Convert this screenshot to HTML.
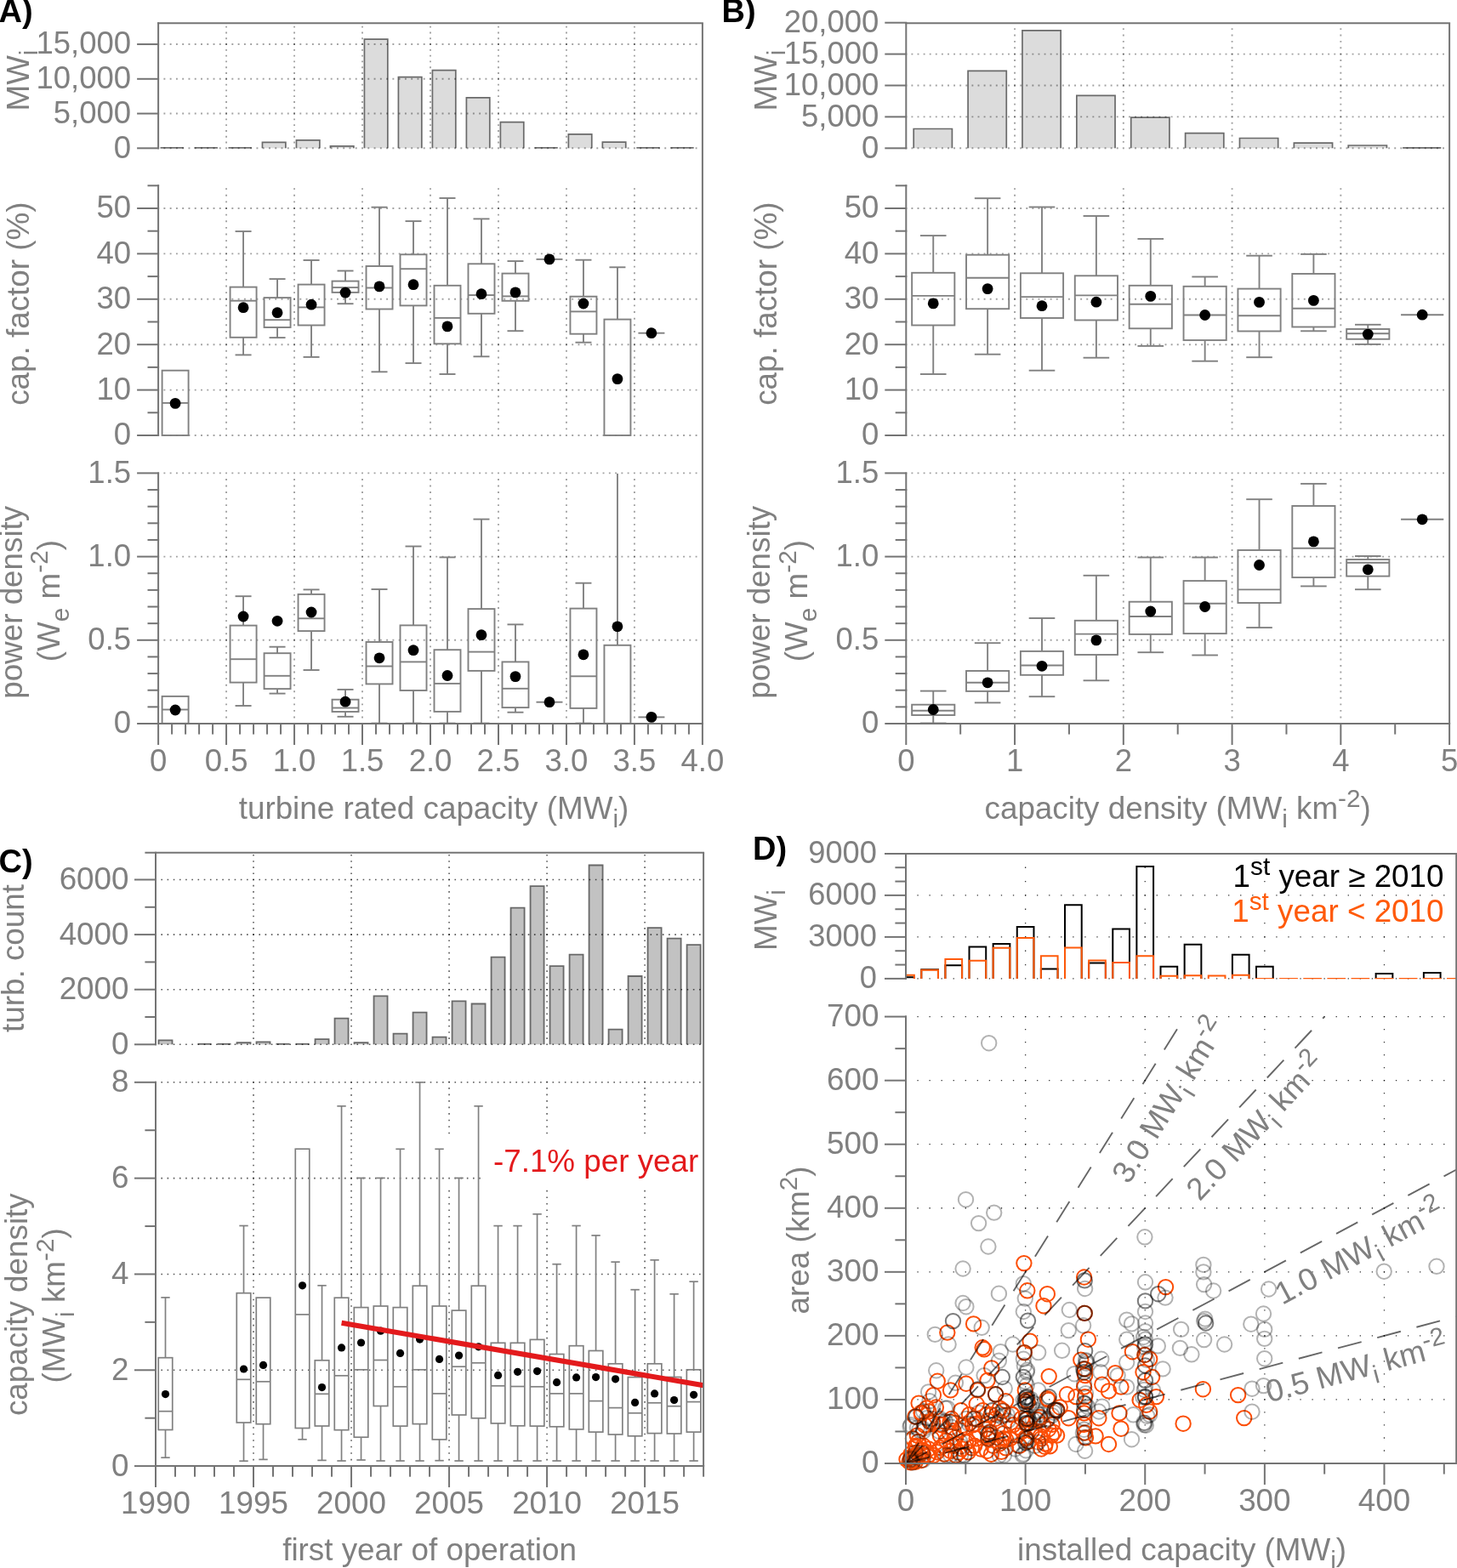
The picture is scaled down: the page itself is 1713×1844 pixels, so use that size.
<!DOCTYPE html>
<html lang="en">
<head>
<meta charset="utf-8">
<title>Wind power: capacity factor, power density and capacity density</title>
<style>
html, body { margin: 0; padding: 0; background: #fff; }
body { width: 1713px; height: 1844px; overflow: hidden; }
svg { display: block; font-family: "Liberation Sans", "DejaVu Sans", sans-serif; }
.ax { stroke: #747474; stroke-width: 2; fill: none; }
.gd { stroke: #000; stroke-opacity: 0.37; stroke-width: 1.9; fill: none; }
.gD { stroke: #000; stroke-opacity: 0.8; stroke-width: 1.3; fill: none; }
.gk { stroke: #000; stroke-opacity: 0.66; stroke-width: 1.6; fill: none; }
.bx { stroke: #808080; stroke-width: 1.9; fill: none; }
.bxc { stroke: #808080; stroke-width: 1.7; fill: none; }
.t { fill: #808080; }
.lab { fill: #000; font-weight: bold; }
.m { fill: #000; }
.ba { fill: #dcdcdc; stroke: #6a6a6a; stroke-width: 1.7; }
.bc { fill: #c2c2c2; stroke: #686868; stroke-width: 1.8; }
.hk { fill: none; stroke: #000; stroke-width: 2; }
.ho { fill: none; stroke: #ff5a0a; stroke-width: 2; }
.cg { fill: none; stroke: #000; stroke-opacity: 0.3; stroke-width: 2; }
.co { fill: none; stroke: #fc4e06; stroke-width: 2; }
.dl { fill: none; stroke: #000; stroke-opacity: 0.6; stroke-width: 1.9; stroke-dasharray: 28.6 19.2; }
.rl { fill: none; stroke: #e31a1c; stroke-width: 6; }
</style>
</head>
<body>
<svg width="1713" height="1844" viewBox="0 0 1713 1844">
<rect x="0" y="0" width="1713" height="1844" fill="#ffffff"/>
<line class="ba" style="fill:none" x1="188.50" y1="173.80" x2="215.90" y2="173.80"/>
<line class="ba" style="fill:none" x1="228.49" y1="173.80" x2="255.89" y2="173.80"/>
<line class="ba" style="fill:none" x1="268.47" y1="173.80" x2="295.87" y2="173.80"/>
<path class="ba" d="M308.46,174.30 V167.40 H335.86 V174.30"/>
<path class="ba" d="M348.45,174.30 V164.90 H375.85 V174.30"/>
<path class="ba" d="M388.44,174.30 V171.90 H415.84 V174.30"/>
<path class="ba" d="M428.42,174.30 V46.10 H455.82 V174.30"/>
<path class="ba" d="M468.41,174.30 V90.70 H495.81 V174.30"/>
<path class="ba" d="M508.40,174.30 V82.60 H535.80 V174.30"/>
<path class="ba" d="M548.39,174.30 V114.80 H575.79 V174.30"/>
<path class="ba" d="M588.38,174.30 V143.60 H615.77 V174.30"/>
<line class="ba" style="fill:none" x1="628.36" y1="173.80" x2="655.76" y2="173.80"/>
<path class="ba" d="M668.35,174.30 V157.80 H695.75 V174.30"/>
<path class="ba" d="M708.34,174.30 V167.20 H735.74 V174.30"/>
<line class="ba" style="fill:none" x1="748.32" y1="173.80" x2="775.72" y2="173.80"/>
<line class="ba" style="fill:none" x1="788.31" y1="173.80" x2="815.71" y2="173.80"/>
<line class="gd" x1="192.42" y1="174.30" x2="824.90" y2="174.30" stroke-dasharray="1.9 5.370"/>
<line class="gd" x1="192.42" y1="133.55" x2="824.90" y2="133.55" stroke-dasharray="1.9 5.370"/>
<line class="gd" x1="192.42" y1="92.80" x2="824.90" y2="92.80" stroke-dasharray="1.9 5.370"/>
<line class="gd" x1="192.42" y1="52.05" x2="824.90" y2="52.05" stroke-dasharray="1.9 5.370"/>
<line class="gd" x1="266.07" y1="168.46" x2="266.07" y2="29.30" stroke-dasharray="1.9 4.892"/>
<line class="gd" x1="346.05" y1="168.46" x2="346.05" y2="29.30" stroke-dasharray="1.9 4.892"/>
<line class="gd" x1="426.02" y1="168.46" x2="426.02" y2="29.30" stroke-dasharray="1.9 4.892"/>
<line class="gd" x1="506.00" y1="168.46" x2="506.00" y2="29.30" stroke-dasharray="1.9 4.892"/>
<line class="gd" x1="585.98" y1="168.46" x2="585.98" y2="29.30" stroke-dasharray="1.9 4.892"/>
<line class="gd" x1="665.95" y1="168.46" x2="665.95" y2="29.30" stroke-dasharray="1.9 4.892"/>
<line class="gd" x1="745.92" y1="168.46" x2="745.92" y2="29.30" stroke-dasharray="1.9 4.892"/>
<line class="gd" x1="192.42" y1="512.00" x2="824.90" y2="512.00" stroke-dasharray="1.9 5.370"/>
<line class="gd" x1="192.42" y1="458.60" x2="824.90" y2="458.60" stroke-dasharray="1.9 5.370"/>
<line class="gd" x1="192.42" y1="405.20" x2="824.90" y2="405.20" stroke-dasharray="1.9 5.370"/>
<line class="gd" x1="192.42" y1="351.80" x2="824.90" y2="351.80" stroke-dasharray="1.9 5.370"/>
<line class="gd" x1="192.42" y1="298.40" x2="824.90" y2="298.40" stroke-dasharray="1.9 5.370"/>
<line class="gd" x1="192.42" y1="245.00" x2="824.90" y2="245.00" stroke-dasharray="1.9 5.370"/>
<line class="gd" x1="266.07" y1="505.32" x2="266.07" y2="220.97" stroke-dasharray="1.9 5.729"/>
<line class="gd" x1="346.05" y1="505.32" x2="346.05" y2="220.97" stroke-dasharray="1.9 5.729"/>
<line class="gd" x1="426.02" y1="505.32" x2="426.02" y2="220.97" stroke-dasharray="1.9 5.729"/>
<line class="gd" x1="506.00" y1="505.32" x2="506.00" y2="220.97" stroke-dasharray="1.9 5.729"/>
<line class="gd" x1="585.98" y1="505.32" x2="585.98" y2="220.97" stroke-dasharray="1.9 5.729"/>
<line class="gd" x1="665.95" y1="505.32" x2="665.95" y2="220.97" stroke-dasharray="1.9 5.729"/>
<line class="gd" x1="745.92" y1="505.32" x2="745.92" y2="220.97" stroke-dasharray="1.9 5.729"/>
<line class="gd" x1="192.42" y1="752.80" x2="824.90" y2="752.80" stroke-dasharray="1.9 5.370"/>
<line class="gd" x1="192.42" y1="654.60" x2="824.90" y2="654.60" stroke-dasharray="1.9 5.370"/>
<line class="gd" x1="192.42" y1="556.40" x2="824.90" y2="556.40" stroke-dasharray="1.9 5.370"/>
<line class="gd" x1="266.07" y1="844.40" x2="266.07" y2="557.40" stroke-dasharray="1.9 5.654"/>
<line class="gd" x1="346.05" y1="844.40" x2="346.05" y2="557.40" stroke-dasharray="1.9 5.654"/>
<line class="gd" x1="426.02" y1="844.40" x2="426.02" y2="557.40" stroke-dasharray="1.9 5.654"/>
<line class="gd" x1="506.00" y1="844.40" x2="506.00" y2="557.40" stroke-dasharray="1.9 5.654"/>
<line class="gd" x1="585.98" y1="844.40" x2="585.98" y2="557.40" stroke-dasharray="1.9 5.654"/>
<line class="gd" x1="665.95" y1="844.40" x2="665.95" y2="557.40" stroke-dasharray="1.9 5.654"/>
<line class="gd" x1="745.92" y1="844.40" x2="745.92" y2="557.40" stroke-dasharray="1.9 5.654"/>
<rect class="bx" x="190.59" y="435.70" width="31.00" height="76.30"/>
<line class="bx" x1="190.59" y1="473.90" x2="221.59" y2="473.90"/>
<rect class="bx" x="270.57" y="337.60" width="31.00" height="59.20"/>
<line class="bx" x1="270.57" y1="353.70" x2="301.57" y2="353.70"/>
<line class="bx" x1="286.07" y1="272.10" x2="286.07" y2="337.60"/>
<line class="bx" x1="276.57" y1="272.10" x2="295.57" y2="272.10"/>
<line class="bx" x1="286.07" y1="396.80" x2="286.07" y2="417.40"/>
<line class="bx" x1="276.57" y1="417.40" x2="295.57" y2="417.40"/>
<rect class="bx" x="310.56" y="350.10" width="31.00" height="34.90"/>
<line class="bx" x1="310.56" y1="376.20" x2="341.56" y2="376.20"/>
<line class="bx" x1="326.06" y1="328.10" x2="326.06" y2="350.10"/>
<line class="bx" x1="316.56" y1="328.10" x2="335.56" y2="328.10"/>
<line class="bx" x1="326.06" y1="385.00" x2="326.06" y2="397.10"/>
<line class="bx" x1="316.56" y1="397.10" x2="335.56" y2="397.10"/>
<rect class="bx" x="350.54" y="334.60" width="31.00" height="47.90"/>
<line class="bx" x1="350.54" y1="361.40" x2="381.54" y2="361.40"/>
<line class="bx" x1="366.04" y1="306.00" x2="366.04" y2="334.60"/>
<line class="bx" x1="356.54" y1="306.00" x2="375.54" y2="306.00"/>
<line class="bx" x1="366.04" y1="382.50" x2="366.04" y2="419.90"/>
<line class="bx" x1="356.54" y1="419.90" x2="375.54" y2="419.90"/>
<rect class="bx" x="390.53" y="330.60" width="31.00" height="13.30"/>
<line class="bx" x1="390.53" y1="338.10" x2="421.53" y2="338.10"/>
<line class="bx" x1="406.03" y1="318.50" x2="406.03" y2="330.60"/>
<line class="bx" x1="396.53" y1="318.50" x2="415.53" y2="318.50"/>
<line class="bx" x1="406.03" y1="343.90" x2="406.03" y2="357.20"/>
<line class="bx" x1="396.53" y1="357.20" x2="415.53" y2="357.20"/>
<rect class="bx" x="430.52" y="313.00" width="31.00" height="50.50"/>
<line class="bx" x1="430.52" y1="338.50" x2="461.52" y2="338.50"/>
<line class="bx" x1="446.02" y1="243.70" x2="446.02" y2="313.00"/>
<line class="bx" x1="436.52" y1="243.70" x2="455.52" y2="243.70"/>
<line class="bx" x1="446.02" y1="363.50" x2="446.02" y2="437.30"/>
<line class="bx" x1="436.52" y1="437.30" x2="455.52" y2="437.30"/>
<rect class="bx" x="470.51" y="299.30" width="31.00" height="60.10"/>
<line class="bx" x1="470.51" y1="316.20" x2="501.51" y2="316.20"/>
<line class="bx" x1="486.01" y1="260.10" x2="486.01" y2="299.30"/>
<line class="bx" x1="476.51" y1="260.10" x2="495.51" y2="260.10"/>
<line class="bx" x1="486.01" y1="359.40" x2="486.01" y2="427.10"/>
<line class="bx" x1="476.51" y1="427.10" x2="495.51" y2="427.10"/>
<rect class="bx" x="510.49" y="335.80" width="31.00" height="68.50"/>
<line class="bx" x1="510.49" y1="373.90" x2="541.49" y2="373.90"/>
<line class="bx" x1="525.99" y1="233.00" x2="525.99" y2="335.80"/>
<line class="bx" x1="516.49" y1="233.00" x2="535.49" y2="233.00"/>
<line class="bx" x1="525.99" y1="404.30" x2="525.99" y2="440.00"/>
<line class="bx" x1="516.49" y1="440.00" x2="535.49" y2="440.00"/>
<rect class="bx" x="550.48" y="310.30" width="31.00" height="58.50"/>
<line class="bx" x1="550.48" y1="347.10" x2="581.48" y2="347.10"/>
<line class="bx" x1="565.98" y1="257.40" x2="565.98" y2="310.30"/>
<line class="bx" x1="556.48" y1="257.40" x2="575.48" y2="257.40"/>
<line class="bx" x1="565.98" y1="368.80" x2="565.98" y2="419.30"/>
<line class="bx" x1="556.48" y1="419.30" x2="575.48" y2="419.30"/>
<rect class="bx" x="590.47" y="321.60" width="31.00" height="32.20"/>
<line class="bx" x1="590.47" y1="348.40" x2="621.47" y2="348.40"/>
<line class="bx" x1="605.97" y1="307.10" x2="605.97" y2="321.60"/>
<line class="bx" x1="596.47" y1="307.10" x2="615.47" y2="307.10"/>
<line class="bx" x1="605.97" y1="353.80" x2="605.97" y2="389.20"/>
<line class="bx" x1="596.47" y1="389.20" x2="615.47" y2="389.20"/>
<line class="bx" x1="630.46" y1="304.90" x2="661.46" y2="304.90"/>
<rect class="bx" x="670.44" y="348.70" width="31.00" height="44.00"/>
<line class="bx" x1="670.44" y1="366.40" x2="701.44" y2="366.40"/>
<line class="bx" x1="685.94" y1="305.70" x2="685.94" y2="348.70"/>
<line class="bx" x1="676.44" y1="305.70" x2="695.44" y2="305.70"/>
<line class="bx" x1="685.94" y1="392.70" x2="685.94" y2="402.70"/>
<line class="bx" x1="676.44" y1="402.70" x2="695.44" y2="402.70"/>
<rect class="bx" x="710.43" y="375.60" width="31.00" height="136.40"/>
<line class="bx" x1="725.93" y1="314.30" x2="725.93" y2="375.60"/>
<line class="bx" x1="716.43" y1="314.30" x2="735.43" y2="314.30"/>
<line class="bx" x1="750.42" y1="391.70" x2="781.42" y2="391.70"/>
<rect class="bx" x="190.59" y="818.90" width="31.00" height="31.90"/>
<line class="bx" x1="190.59" y1="834.50" x2="221.59" y2="834.50"/>
<rect class="bx" x="270.57" y="735.60" width="31.00" height="67.00"/>
<line class="bx" x1="270.57" y1="775.20" x2="301.57" y2="775.20"/>
<line class="bx" x1="286.07" y1="701.20" x2="286.07" y2="735.60"/>
<line class="bx" x1="276.57" y1="701.20" x2="295.57" y2="701.20"/>
<line class="bx" x1="286.07" y1="802.60" x2="286.07" y2="830.00"/>
<line class="bx" x1="276.57" y1="830.00" x2="295.57" y2="830.00"/>
<rect class="bx" x="310.56" y="768.20" width="31.00" height="41.90"/>
<line class="bx" x1="310.56" y1="794.80" x2="341.56" y2="794.80"/>
<line class="bx" x1="326.06" y1="760.70" x2="326.06" y2="768.20"/>
<line class="bx" x1="316.56" y1="760.70" x2="335.56" y2="760.70"/>
<line class="bx" x1="326.06" y1="810.10" x2="326.06" y2="815.60"/>
<line class="bx" x1="316.56" y1="815.60" x2="335.56" y2="815.60"/>
<rect class="bx" x="350.54" y="698.90" width="31.00" height="43.20"/>
<line class="bx" x1="350.54" y1="727.30" x2="381.54" y2="727.30"/>
<line class="bx" x1="366.04" y1="693.40" x2="366.04" y2="698.90"/>
<line class="bx" x1="356.54" y1="693.40" x2="375.54" y2="693.40"/>
<line class="bx" x1="366.04" y1="742.10" x2="366.04" y2="788.00"/>
<line class="bx" x1="356.54" y1="788.00" x2="375.54" y2="788.00"/>
<rect class="bx" x="390.53" y="822.70" width="31.00" height="14.30"/>
<line class="bx" x1="390.53" y1="832.50" x2="421.53" y2="832.50"/>
<line class="bx" x1="406.03" y1="810.90" x2="406.03" y2="822.70"/>
<line class="bx" x1="396.53" y1="810.90" x2="415.53" y2="810.90"/>
<line class="bx" x1="406.03" y1="837.00" x2="406.03" y2="842.80"/>
<line class="bx" x1="396.53" y1="842.80" x2="415.53" y2="842.80"/>
<rect class="bx" x="430.52" y="755.00" width="31.00" height="49.40"/>
<line class="bx" x1="430.52" y1="783.50" x2="461.52" y2="783.50"/>
<line class="bx" x1="446.02" y1="693.00" x2="446.02" y2="755.00"/>
<line class="bx" x1="436.52" y1="693.00" x2="455.52" y2="693.00"/>
<line class="bx" x1="446.02" y1="804.40" x2="446.02" y2="850.60"/>
<line class="bx" x1="436.52" y1="850.60" x2="455.52" y2="850.60"/>
<rect class="bx" x="470.51" y="735.40" width="31.00" height="76.60"/>
<line class="bx" x1="470.51" y1="778.40" x2="501.51" y2="778.40"/>
<line class="bx" x1="486.01" y1="642.50" x2="486.01" y2="735.40"/>
<line class="bx" x1="476.51" y1="642.50" x2="495.51" y2="642.50"/>
<line class="bx" x1="486.01" y1="812.00" x2="486.01" y2="850.60"/>
<line class="bx" x1="476.51" y1="850.60" x2="495.51" y2="850.60"/>
<rect class="bx" x="510.49" y="764.20" width="31.00" height="72.70"/>
<line class="bx" x1="510.49" y1="803.90" x2="541.49" y2="803.90"/>
<line class="bx" x1="525.99" y1="655.40" x2="525.99" y2="764.20"/>
<line class="bx" x1="516.49" y1="655.40" x2="535.49" y2="655.40"/>
<line class="bx" x1="525.99" y1="836.90" x2="525.99" y2="850.60"/>
<line class="bx" x1="516.49" y1="850.60" x2="535.49" y2="850.60"/>
<rect class="bx" x="550.48" y="716.10" width="31.00" height="72.80"/>
<line class="bx" x1="550.48" y1="766.60" x2="581.48" y2="766.60"/>
<line class="bx" x1="565.98" y1="610.60" x2="565.98" y2="716.10"/>
<line class="bx" x1="556.48" y1="610.60" x2="575.48" y2="610.60"/>
<line class="bx" x1="565.98" y1="788.90" x2="565.98" y2="850.60"/>
<line class="bx" x1="556.48" y1="850.60" x2="575.48" y2="850.60"/>
<rect class="bx" x="590.47" y="778.40" width="31.00" height="53.70"/>
<line class="bx" x1="590.47" y1="809.80" x2="621.47" y2="809.80"/>
<line class="bx" x1="605.97" y1="734.40" x2="605.97" y2="778.40"/>
<line class="bx" x1="596.47" y1="734.40" x2="615.47" y2="734.40"/>
<line class="bx" x1="605.97" y1="832.10" x2="605.97" y2="837.70"/>
<line class="bx" x1="596.47" y1="837.70" x2="615.47" y2="837.70"/>
<line class="bx" x1="630.46" y1="825.70" x2="661.46" y2="825.70"/>
<rect class="bx" x="670.44" y="715.60" width="31.00" height="117.30"/>
<line class="bx" x1="670.44" y1="795.30" x2="701.44" y2="795.30"/>
<line class="bx" x1="685.94" y1="685.70" x2="685.94" y2="715.60"/>
<line class="bx" x1="676.44" y1="685.70" x2="695.44" y2="685.70"/>
<line class="bx" x1="685.94" y1="832.90" x2="685.94" y2="850.60"/>
<line class="bx" x1="676.44" y1="850.60" x2="695.44" y2="850.60"/>
<rect class="bx" x="710.43" y="758.80" width="31.00" height="92.00"/>
<line class="bx" x1="725.93" y1="556.90" x2="725.93" y2="758.80"/>
<line class="bx" x1="750.42" y1="843.40" x2="781.42" y2="843.40"/>
<circle class="m" cx="206.09" cy="474.40" r="6.4"/>
<circle class="m" cx="286.07" cy="361.70" r="6.4"/>
<circle class="m" cx="326.06" cy="367.70" r="6.4"/>
<circle class="m" cx="366.04" cy="358.20" r="6.4"/>
<circle class="m" cx="406.03" cy="344.10" r="6.4"/>
<circle class="m" cx="446.02" cy="336.90" r="6.4"/>
<circle class="m" cx="486.01" cy="334.70" r="6.4"/>
<circle class="m" cx="525.99" cy="383.90" r="6.4"/>
<circle class="m" cx="565.98" cy="345.70" r="6.4"/>
<circle class="m" cx="605.97" cy="343.90" r="6.4"/>
<circle class="m" cx="645.96" cy="304.90" r="6.4"/>
<circle class="m" cx="685.94" cy="357.00" r="6.4"/>
<circle class="m" cx="725.93" cy="445.60" r="6.4"/>
<circle class="m" cx="765.92" cy="391.70" r="6.4"/>
<circle class="m" cx="206.09" cy="835.00" r="6.4"/>
<circle class="m" cx="286.07" cy="725.00" r="6.4"/>
<circle class="m" cx="326.06" cy="730.30" r="6.4"/>
<circle class="m" cx="366.04" cy="720.00" r="6.4"/>
<circle class="m" cx="406.03" cy="825.20" r="6.4"/>
<circle class="m" cx="446.02" cy="773.80" r="6.4"/>
<circle class="m" cx="486.01" cy="764.70" r="6.4"/>
<circle class="m" cx="525.99" cy="794.50" r="6.4"/>
<circle class="m" cx="565.98" cy="746.70" r="6.4"/>
<circle class="m" cx="605.97" cy="795.60" r="6.4"/>
<circle class="m" cx="645.96" cy="825.70" r="6.4"/>
<circle class="m" cx="685.94" cy="769.80" r="6.4"/>
<circle class="m" cx="725.93" cy="736.80" r="6.4"/>
<circle class="m" cx="765.92" cy="843.40" r="6.4"/>
<line class="ax" x1="186.10" y1="26.30" x2="186.10" y2="175.30"/>
<line class="ax" x1="186.10" y1="217.30" x2="186.10" y2="513.00"/>
<line class="ax" x1="186.10" y1="555.40" x2="186.10" y2="851.00"/>
<line class="ax" x1="185.10" y1="27.30" x2="826.90" y2="27.30"/>
<line class="ax" x1="825.90" y1="27.30" x2="825.90" y2="851.00"/>
<line class="ax" x1="185.10" y1="851.00" x2="826.90" y2="851.00"/>
<line class="ax" x1="161.10" y1="174.30" x2="187.10" y2="174.30"/>
<text class="t" x="154.10" y="185.60" font-size="36.5" text-anchor="end">0</text>
<line class="ax" x1="161.10" y1="133.55" x2="187.10" y2="133.55"/>
<text class="t" x="154.10" y="144.85" font-size="36.5" text-anchor="end">5,000</text>
<line class="ax" x1="161.10" y1="92.80" x2="187.10" y2="92.80"/>
<text class="t" x="154.10" y="104.10" font-size="36.5" text-anchor="end">10,000</text>
<line class="ax" x1="161.10" y1="52.05" x2="187.10" y2="52.05"/>
<text class="t" x="154.10" y="63.35" font-size="36.5" text-anchor="end">15,000</text>
<line class="ax" x1="161.10" y1="512.00" x2="187.10" y2="512.00"/>
<text class="t" x="154.10" y="523.30" font-size="36.5" text-anchor="end">0</text>
<line class="ax" x1="173.50" y1="485.30" x2="187.10" y2="485.30"/>
<line class="ax" x1="161.10" y1="458.60" x2="187.10" y2="458.60"/>
<text class="t" x="154.10" y="469.90" font-size="36.5" text-anchor="end">10</text>
<line class="ax" x1="173.50" y1="431.90" x2="187.10" y2="431.90"/>
<line class="ax" x1="161.10" y1="405.20" x2="187.10" y2="405.20"/>
<text class="t" x="154.10" y="416.50" font-size="36.5" text-anchor="end">20</text>
<line class="ax" x1="173.50" y1="378.50" x2="187.10" y2="378.50"/>
<line class="ax" x1="161.10" y1="351.80" x2="187.10" y2="351.80"/>
<text class="t" x="154.10" y="363.10" font-size="36.5" text-anchor="end">30</text>
<line class="ax" x1="173.50" y1="325.10" x2="187.10" y2="325.10"/>
<line class="ax" x1="161.10" y1="298.40" x2="187.10" y2="298.40"/>
<text class="t" x="154.10" y="309.70" font-size="36.5" text-anchor="end">40</text>
<line class="ax" x1="173.50" y1="271.70" x2="187.10" y2="271.70"/>
<line class="ax" x1="161.10" y1="245.00" x2="187.10" y2="245.00"/>
<text class="t" x="154.10" y="256.30" font-size="36.5" text-anchor="end">50</text>
<line class="ax" x1="173.50" y1="218.30" x2="187.10" y2="218.30"/>
<line class="ax" x1="161.10" y1="851.00" x2="187.10" y2="851.00"/>
<text class="t" x="154.10" y="862.30" font-size="36.5" text-anchor="end">0</text>
<line class="ax" x1="173.50" y1="831.36" x2="187.10" y2="831.36"/>
<line class="ax" x1="173.50" y1="811.72" x2="187.10" y2="811.72"/>
<line class="ax" x1="173.50" y1="792.08" x2="187.10" y2="792.08"/>
<line class="ax" x1="173.50" y1="772.44" x2="187.10" y2="772.44"/>
<line class="ax" x1="161.10" y1="752.80" x2="187.10" y2="752.80"/>
<text class="t" x="154.10" y="764.10" font-size="36.5" text-anchor="end">0.5</text>
<line class="ax" x1="173.50" y1="733.16" x2="187.10" y2="733.16"/>
<line class="ax" x1="173.50" y1="713.52" x2="187.10" y2="713.52"/>
<line class="ax" x1="173.50" y1="693.88" x2="187.10" y2="693.88"/>
<line class="ax" x1="173.50" y1="674.24" x2="187.10" y2="674.24"/>
<line class="ax" x1="161.10" y1="654.60" x2="187.10" y2="654.60"/>
<text class="t" x="154.10" y="665.90" font-size="36.5" text-anchor="end">1.0</text>
<line class="ax" x1="173.50" y1="634.96" x2="187.10" y2="634.96"/>
<line class="ax" x1="173.50" y1="615.32" x2="187.10" y2="615.32"/>
<line class="ax" x1="173.50" y1="595.68" x2="187.10" y2="595.68"/>
<line class="ax" x1="173.50" y1="576.04" x2="187.10" y2="576.04"/>
<line class="ax" x1="161.10" y1="556.40" x2="187.10" y2="556.40"/>
<text class="t" x="154.10" y="567.70" font-size="36.5" text-anchor="end">1.5</text>
<line class="ax" x1="186.10" y1="850.00" x2="186.10" y2="876.00"/>
<line class="ax" x1="202.09" y1="850.00" x2="202.09" y2="863.60"/>
<line class="ax" x1="218.09" y1="850.00" x2="218.09" y2="863.60"/>
<line class="ax" x1="234.09" y1="850.00" x2="234.09" y2="863.60"/>
<line class="ax" x1="250.08" y1="850.00" x2="250.08" y2="863.60"/>
<line class="ax" x1="266.07" y1="850.00" x2="266.07" y2="876.00"/>
<line class="ax" x1="282.07" y1="850.00" x2="282.07" y2="863.60"/>
<line class="ax" x1="298.06" y1="850.00" x2="298.06" y2="863.60"/>
<line class="ax" x1="314.06" y1="850.00" x2="314.06" y2="863.60"/>
<line class="ax" x1="330.05" y1="850.00" x2="330.05" y2="863.60"/>
<line class="ax" x1="346.05" y1="850.00" x2="346.05" y2="876.00"/>
<line class="ax" x1="362.04" y1="850.00" x2="362.04" y2="863.60"/>
<line class="ax" x1="378.04" y1="850.00" x2="378.04" y2="863.60"/>
<line class="ax" x1="394.03" y1="850.00" x2="394.03" y2="863.60"/>
<line class="ax" x1="410.03" y1="850.00" x2="410.03" y2="863.60"/>
<line class="ax" x1="426.02" y1="850.00" x2="426.02" y2="876.00"/>
<line class="ax" x1="442.02" y1="850.00" x2="442.02" y2="863.60"/>
<line class="ax" x1="458.01" y1="850.00" x2="458.01" y2="863.60"/>
<line class="ax" x1="474.01" y1="850.00" x2="474.01" y2="863.60"/>
<line class="ax" x1="490.00" y1="850.00" x2="490.00" y2="863.60"/>
<line class="ax" x1="506.00" y1="850.00" x2="506.00" y2="876.00"/>
<line class="ax" x1="522.00" y1="850.00" x2="522.00" y2="863.60"/>
<line class="ax" x1="537.99" y1="850.00" x2="537.99" y2="863.60"/>
<line class="ax" x1="553.99" y1="850.00" x2="553.99" y2="863.60"/>
<line class="ax" x1="569.98" y1="850.00" x2="569.98" y2="863.60"/>
<line class="ax" x1="585.98" y1="850.00" x2="585.98" y2="876.00"/>
<line class="ax" x1="601.97" y1="850.00" x2="601.97" y2="863.60"/>
<line class="ax" x1="617.97" y1="850.00" x2="617.97" y2="863.60"/>
<line class="ax" x1="633.96" y1="850.00" x2="633.96" y2="863.60"/>
<line class="ax" x1="649.96" y1="850.00" x2="649.96" y2="863.60"/>
<line class="ax" x1="665.95" y1="850.00" x2="665.95" y2="876.00"/>
<line class="ax" x1="681.94" y1="850.00" x2="681.94" y2="863.60"/>
<line class="ax" x1="697.94" y1="850.00" x2="697.94" y2="863.60"/>
<line class="ax" x1="713.94" y1="850.00" x2="713.94" y2="863.60"/>
<line class="ax" x1="729.93" y1="850.00" x2="729.93" y2="863.60"/>
<line class="ax" x1="745.92" y1="850.00" x2="745.92" y2="876.00"/>
<line class="ax" x1="761.92" y1="850.00" x2="761.92" y2="863.60"/>
<line class="ax" x1="777.91" y1="850.00" x2="777.91" y2="863.60"/>
<line class="ax" x1="793.91" y1="850.00" x2="793.91" y2="863.60"/>
<line class="ax" x1="809.91" y1="850.00" x2="809.91" y2="863.60"/>
<line class="ax" x1="825.90" y1="850.00" x2="825.90" y2="876.00"/>
<text class="t" x="186.10" y="907.00" font-size="36.5" text-anchor="middle">0</text>
<text class="t" x="266.07" y="907.00" font-size="36.5" text-anchor="middle">0.5</text>
<text class="t" x="346.05" y="907.00" font-size="36.5" text-anchor="middle">1.0</text>
<text class="t" x="426.02" y="907.00" font-size="36.5" text-anchor="middle">1.5</text>
<text class="t" x="506.00" y="907.00" font-size="36.5" text-anchor="middle">2.0</text>
<text class="t" x="585.98" y="907.00" font-size="36.5" text-anchor="middle">2.5</text>
<text class="t" x="665.95" y="907.00" font-size="36.5" text-anchor="middle">3.0</text>
<text class="t" x="745.92" y="907.00" font-size="36.5" text-anchor="middle">3.5</text>
<text class="t" x="825.90" y="907.00" font-size="36.5" text-anchor="middle">4.0</text>
<text class="t" x="510.00" y="962.50" font-size="36.8" text-anchor="middle"><tspan font-size="36.8" dy="0.00">turbine rated capacity (MW</tspan><tspan font-size="29.8" dy="10.49">i</tspan><tspan font-size="36.8" dy="-10.49">)</tspan></text>
<text class="t" x="0" y="0" transform="translate(33.70,94.50) rotate(-90)" font-size="36.8" text-anchor="middle"><tspan font-size="36.8" dy="0.00">MW</tspan><tspan font-size="29.8" dy="10.49">i</tspan></text>
<text class="t" x="0" y="0" transform="translate(33.70,357.20) rotate(-90)" font-size="36.8" text-anchor="middle">cap. factor (%)</text>
<text class="t" x="0" y="0" transform="translate(26.00,708.30) rotate(-90)" font-size="36.8" text-anchor="middle">power density</text>
<text class="t" x="0" y="0" transform="translate(70.10,706.60) rotate(-90)" font-size="36.8" text-anchor="middle"><tspan font-size="36.8" dy="0.00">(W</tspan><tspan font-size="29.8" dy="10.49">e</tspan><tspan font-size="36.8" dy="-10.49">&#160;m</tspan><tspan font-size="29.8" dy="-13.73">-2</tspan><tspan font-size="36.8" dy="13.73">)</tspan></text>
<text class="lab" x="-1.50" y="26.30" font-size="38" text-anchor="start">A)</text>
<path class="ba" d="M1074.20,174.30 V151.50 H1119.40 V174.30"/>
<path class="ba" d="M1138.08,174.30 V83.40 H1183.28 V174.30"/>
<path class="ba" d="M1201.96,174.30 V35.90 H1247.16 V174.30"/>
<path class="ba" d="M1265.84,174.30 V112.40 H1311.04 V174.30"/>
<path class="ba" d="M1329.72,174.30 V138.10 H1374.92 V174.30"/>
<path class="ba" d="M1393.60,174.30 V156.60 H1438.80 V174.30"/>
<path class="ba" d="M1457.48,174.30 V162.50 H1502.68 V174.30"/>
<path class="ba" d="M1521.36,174.30 V168.20 H1566.56 V174.30"/>
<path class="ba" d="M1585.24,174.30 V171.00 H1630.44 V174.30"/>
<line class="ba" style="fill:none" x1="1649.12" y1="173.80" x2="1694.32" y2="173.80"/>
<line class="gd" x1="1071.45" y1="174.30" x2="1703.10" y2="174.30" stroke-dasharray="1.9 5.198"/>
<line class="gd" x1="1071.45" y1="137.40" x2="1703.10" y2="137.40" stroke-dasharray="1.9 5.198"/>
<line class="gd" x1="1071.45" y1="100.50" x2="1703.10" y2="100.50" stroke-dasharray="1.9 5.198"/>
<line class="gd" x1="1071.45" y1="63.60" x2="1703.10" y2="63.60" stroke-dasharray="1.9 5.198"/>
<line class="gd" x1="1193.06" y1="167.87" x2="1193.06" y2="29.30" stroke-dasharray="1.9 5.480"/>
<line class="gd" x1="1320.82" y1="167.87" x2="1320.82" y2="29.30" stroke-dasharray="1.9 5.480"/>
<line class="gd" x1="1448.58" y1="167.87" x2="1448.58" y2="29.30" stroke-dasharray="1.9 5.480"/>
<line class="gd" x1="1576.34" y1="167.87" x2="1576.34" y2="29.30" stroke-dasharray="1.9 5.480"/>
<line class="gd" x1="1071.45" y1="512.00" x2="1703.10" y2="512.00" stroke-dasharray="1.9 5.198"/>
<line class="gd" x1="1071.45" y1="458.60" x2="1703.10" y2="458.60" stroke-dasharray="1.9 5.198"/>
<line class="gd" x1="1071.45" y1="405.20" x2="1703.10" y2="405.20" stroke-dasharray="1.9 5.198"/>
<line class="gd" x1="1071.45" y1="351.80" x2="1703.10" y2="351.80" stroke-dasharray="1.9 5.198"/>
<line class="gd" x1="1071.45" y1="298.40" x2="1703.10" y2="298.40" stroke-dasharray="1.9 5.198"/>
<line class="gd" x1="1071.45" y1="245.00" x2="1703.10" y2="245.00" stroke-dasharray="1.9 5.198"/>
<line class="gd" x1="1193.06" y1="505.32" x2="1193.06" y2="220.97" stroke-dasharray="1.9 5.729"/>
<line class="gd" x1="1320.82" y1="505.32" x2="1320.82" y2="220.97" stroke-dasharray="1.9 5.729"/>
<line class="gd" x1="1448.58" y1="505.32" x2="1448.58" y2="220.97" stroke-dasharray="1.9 5.729"/>
<line class="gd" x1="1576.34" y1="505.32" x2="1576.34" y2="220.97" stroke-dasharray="1.9 5.729"/>
<line class="gd" x1="1071.45" y1="752.80" x2="1703.10" y2="752.80" stroke-dasharray="1.9 5.198"/>
<line class="gd" x1="1071.45" y1="654.60" x2="1703.10" y2="654.60" stroke-dasharray="1.9 5.198"/>
<line class="gd" x1="1071.45" y1="556.40" x2="1703.10" y2="556.40" stroke-dasharray="1.9 5.198"/>
<line class="gd" x1="1193.06" y1="844.40" x2="1193.06" y2="557.40" stroke-dasharray="1.9 5.654"/>
<line class="gd" x1="1320.82" y1="844.40" x2="1320.82" y2="557.40" stroke-dasharray="1.9 5.654"/>
<line class="gd" x1="1448.58" y1="844.40" x2="1448.58" y2="557.40" stroke-dasharray="1.9 5.654"/>
<line class="gd" x1="1576.34" y1="844.40" x2="1576.34" y2="557.40" stroke-dasharray="1.9 5.654"/>
<rect class="bx" x="1072.14" y="320.80" width="50.20" height="61.70"/>
<line class="bx" x1="1072.14" y1="347.90" x2="1122.34" y2="347.90"/>
<line class="bx" x1="1097.24" y1="277.10" x2="1097.24" y2="320.80"/>
<line class="bx" x1="1081.94" y1="277.10" x2="1112.54" y2="277.10"/>
<line class="bx" x1="1097.24" y1="382.50" x2="1097.24" y2="440.00"/>
<line class="bx" x1="1081.94" y1="440.00" x2="1112.54" y2="440.00"/>
<rect class="bx" x="1136.02" y="299.70" width="50.20" height="63.50"/>
<line class="bx" x1="1136.02" y1="326.80" x2="1186.22" y2="326.80"/>
<line class="bx" x1="1161.12" y1="233.20" x2="1161.12" y2="299.70"/>
<line class="bx" x1="1145.82" y1="233.20" x2="1176.42" y2="233.20"/>
<line class="bx" x1="1161.12" y1="363.20" x2="1161.12" y2="416.70"/>
<line class="bx" x1="1145.82" y1="416.70" x2="1176.42" y2="416.70"/>
<rect class="bx" x="1199.90" y="321.30" width="50.20" height="52.70"/>
<line class="bx" x1="1199.90" y1="349.10" x2="1250.10" y2="349.10"/>
<line class="bx" x1="1225.00" y1="243.50" x2="1225.00" y2="321.30"/>
<line class="bx" x1="1209.70" y1="243.50" x2="1240.30" y2="243.50"/>
<line class="bx" x1="1225.00" y1="374.00" x2="1225.00" y2="435.70"/>
<line class="bx" x1="1209.70" y1="435.70" x2="1240.30" y2="435.70"/>
<rect class="bx" x="1263.78" y="324.30" width="50.20" height="52.20"/>
<line class="bx" x1="1263.78" y1="347.40" x2="1313.98" y2="347.40"/>
<line class="bx" x1="1288.88" y1="254.00" x2="1288.88" y2="324.30"/>
<line class="bx" x1="1273.58" y1="254.00" x2="1304.18" y2="254.00"/>
<line class="bx" x1="1288.88" y1="376.50" x2="1288.88" y2="420.70"/>
<line class="bx" x1="1273.58" y1="420.70" x2="1304.18" y2="420.70"/>
<rect class="bx" x="1327.66" y="335.80" width="50.20" height="50.50"/>
<line class="bx" x1="1327.66" y1="357.70" x2="1377.86" y2="357.70"/>
<line class="bx" x1="1352.76" y1="280.90" x2="1352.76" y2="335.80"/>
<line class="bx" x1="1337.46" y1="280.90" x2="1368.06" y2="280.90"/>
<line class="bx" x1="1352.76" y1="386.30" x2="1352.76" y2="406.90"/>
<line class="bx" x1="1337.46" y1="406.90" x2="1368.06" y2="406.90"/>
<rect class="bx" x="1391.54" y="336.80" width="50.20" height="63.30"/>
<line class="bx" x1="1391.54" y1="370.50" x2="1441.74" y2="370.50"/>
<line class="bx" x1="1416.64" y1="325.50" x2="1416.64" y2="336.80"/>
<line class="bx" x1="1401.34" y1="325.50" x2="1431.94" y2="325.50"/>
<line class="bx" x1="1416.64" y1="400.10" x2="1416.64" y2="424.70"/>
<line class="bx" x1="1401.34" y1="424.70" x2="1431.94" y2="424.70"/>
<rect class="bx" x="1455.42" y="339.60" width="50.20" height="49.90"/>
<line class="bx" x1="1455.42" y1="371.20" x2="1505.62" y2="371.20"/>
<line class="bx" x1="1480.52" y1="300.70" x2="1480.52" y2="339.60"/>
<line class="bx" x1="1465.22" y1="300.70" x2="1495.82" y2="300.70"/>
<line class="bx" x1="1480.52" y1="389.50" x2="1480.52" y2="420.20"/>
<line class="bx" x1="1465.22" y1="420.20" x2="1495.82" y2="420.20"/>
<rect class="bx" x="1519.30" y="322.00" width="50.20" height="62.50"/>
<line class="bx" x1="1519.30" y1="362.70" x2="1569.50" y2="362.70"/>
<line class="bx" x1="1544.40" y1="298.90" x2="1544.40" y2="322.00"/>
<line class="bx" x1="1529.10" y1="298.90" x2="1559.70" y2="298.90"/>
<line class="bx" x1="1544.40" y1="384.50" x2="1544.40" y2="389.30"/>
<line class="bx" x1="1529.10" y1="389.30" x2="1559.70" y2="389.30"/>
<rect class="bx" x="1583.18" y="387.00" width="50.20" height="11.80"/>
<line class="bx" x1="1583.18" y1="392.30" x2="1633.38" y2="392.30"/>
<line class="bx" x1="1608.28" y1="381.80" x2="1608.28" y2="387.00"/>
<line class="bx" x1="1592.98" y1="381.80" x2="1623.58" y2="381.80"/>
<line class="bx" x1="1608.28" y1="398.80" x2="1608.28" y2="404.90"/>
<line class="bx" x1="1592.98" y1="404.90" x2="1623.58" y2="404.90"/>
<line class="bx" x1="1647.06" y1="370.20" x2="1697.26" y2="370.20"/>
<rect class="bx" x="1072.14" y="828.70" width="50.20" height="12.30"/>
<line class="bx" x1="1072.14" y1="835.70" x2="1122.34" y2="835.70"/>
<line class="bx" x1="1097.24" y1="812.60" x2="1097.24" y2="828.70"/>
<line class="bx" x1="1081.94" y1="812.60" x2="1112.54" y2="812.60"/>
<line class="bx" x1="1097.24" y1="841.00" x2="1097.24" y2="850.50"/>
<line class="bx" x1="1081.94" y1="850.50" x2="1112.54" y2="850.50"/>
<rect class="bx" x="1136.02" y="789.00" width="50.20" height="23.90"/>
<line class="bx" x1="1136.02" y1="802.80" x2="1186.22" y2="802.80"/>
<line class="bx" x1="1161.12" y1="756.20" x2="1161.12" y2="789.00"/>
<line class="bx" x1="1145.82" y1="756.20" x2="1176.42" y2="756.20"/>
<line class="bx" x1="1161.12" y1="812.90" x2="1161.12" y2="826.40"/>
<line class="bx" x1="1145.82" y1="826.40" x2="1176.42" y2="826.40"/>
<rect class="bx" x="1199.90" y="765.90" width="50.20" height="27.90"/>
<line class="bx" x1="1199.90" y1="782.50" x2="1250.10" y2="782.50"/>
<line class="bx" x1="1225.00" y1="727.00" x2="1225.00" y2="765.90"/>
<line class="bx" x1="1209.70" y1="727.00" x2="1240.30" y2="727.00"/>
<line class="bx" x1="1225.00" y1="793.80" x2="1225.00" y2="819.20"/>
<line class="bx" x1="1209.70" y1="819.20" x2="1240.30" y2="819.20"/>
<rect class="bx" x="1263.78" y="729.80" width="50.20" height="40.20"/>
<line class="bx" x1="1263.78" y1="745.60" x2="1313.98" y2="745.60"/>
<line class="bx" x1="1288.88" y1="676.80" x2="1288.88" y2="729.80"/>
<line class="bx" x1="1273.58" y1="676.80" x2="1304.18" y2="676.80"/>
<line class="bx" x1="1288.88" y1="770.00" x2="1288.88" y2="800.30"/>
<line class="bx" x1="1273.58" y1="800.30" x2="1304.18" y2="800.30"/>
<rect class="bx" x="1327.66" y="707.70" width="50.20" height="38.20"/>
<line class="bx" x1="1327.66" y1="725.00" x2="1377.86" y2="725.00"/>
<line class="bx" x1="1352.76" y1="655.50" x2="1352.76" y2="707.70"/>
<line class="bx" x1="1337.46" y1="655.50" x2="1368.06" y2="655.50"/>
<line class="bx" x1="1352.76" y1="745.90" x2="1352.76" y2="767.20"/>
<line class="bx" x1="1337.46" y1="767.20" x2="1368.06" y2="767.20"/>
<rect class="bx" x="1391.54" y="683.10" width="50.20" height="62.00"/>
<line class="bx" x1="1391.54" y1="709.70" x2="1441.74" y2="709.70"/>
<line class="bx" x1="1416.64" y1="655.50" x2="1416.64" y2="683.10"/>
<line class="bx" x1="1401.34" y1="655.50" x2="1431.94" y2="655.50"/>
<line class="bx" x1="1416.64" y1="745.10" x2="1416.64" y2="770.50"/>
<line class="bx" x1="1401.34" y1="770.50" x2="1431.94" y2="770.50"/>
<rect class="bx" x="1455.42" y="647.00" width="50.20" height="62.00"/>
<line class="bx" x1="1455.42" y1="693.40" x2="1505.62" y2="693.40"/>
<line class="bx" x1="1480.52" y1="587.20" x2="1480.52" y2="647.00"/>
<line class="bx" x1="1465.22" y1="587.20" x2="1495.82" y2="587.20"/>
<line class="bx" x1="1480.52" y1="709.00" x2="1480.52" y2="738.10"/>
<line class="bx" x1="1465.22" y1="738.10" x2="1495.82" y2="738.10"/>
<rect class="bx" x="1519.30" y="595.00" width="50.20" height="84.10"/>
<line class="bx" x1="1519.30" y1="644.70" x2="1569.50" y2="644.70"/>
<line class="bx" x1="1544.40" y1="568.90" x2="1544.40" y2="595.00"/>
<line class="bx" x1="1529.10" y1="568.90" x2="1559.70" y2="568.90"/>
<line class="bx" x1="1544.40" y1="679.10" x2="1544.40" y2="689.40"/>
<line class="bx" x1="1529.10" y1="689.40" x2="1559.70" y2="689.40"/>
<rect class="bx" x="1583.18" y="658.00" width="50.20" height="19.60"/>
<line class="bx" x1="1583.18" y1="661.80" x2="1633.38" y2="661.80"/>
<line class="bx" x1="1608.28" y1="654.00" x2="1608.28" y2="658.00"/>
<line class="bx" x1="1592.98" y1="654.00" x2="1623.58" y2="654.00"/>
<line class="bx" x1="1608.28" y1="677.60" x2="1608.28" y2="693.20"/>
<line class="bx" x1="1592.98" y1="693.20" x2="1623.58" y2="693.20"/>
<line class="bx" x1="1647.06" y1="610.80" x2="1697.26" y2="610.80"/>
<circle class="m" cx="1097.24" cy="356.90" r="6.4"/>
<circle class="m" cx="1161.12" cy="339.60" r="6.4"/>
<circle class="m" cx="1225.00" cy="359.70" r="6.4"/>
<circle class="m" cx="1288.88" cy="355.20" r="6.4"/>
<circle class="m" cx="1352.76" cy="348.40" r="6.4"/>
<circle class="m" cx="1416.64" cy="370.50" r="6.4"/>
<circle class="m" cx="1480.52" cy="355.40" r="6.4"/>
<circle class="m" cx="1544.40" cy="353.40" r="6.4"/>
<circle class="m" cx="1608.28" cy="393.10" r="6.4"/>
<circle class="m" cx="1672.16" cy="370.20" r="6.4"/>
<circle class="m" cx="1097.24" cy="834.50" r="6.4"/>
<circle class="m" cx="1161.12" cy="802.80" r="6.4"/>
<circle class="m" cx="1225.00" cy="783.30" r="6.4"/>
<circle class="m" cx="1288.88" cy="752.90" r="6.4"/>
<circle class="m" cx="1352.76" cy="719.00" r="6.4"/>
<circle class="m" cx="1416.64" cy="713.50" r="6.4"/>
<circle class="m" cx="1480.52" cy="664.50" r="6.4"/>
<circle class="m" cx="1544.40" cy="636.90" r="6.4"/>
<circle class="m" cx="1608.28" cy="669.80" r="6.4"/>
<circle class="m" cx="1672.16" cy="610.80" r="6.4"/>
<line class="ax" x1="1065.30" y1="26.30" x2="1065.30" y2="175.30"/>
<line class="ax" x1="1065.30" y1="217.30" x2="1065.30" y2="513.00"/>
<line class="ax" x1="1065.30" y1="555.40" x2="1065.30" y2="851.00"/>
<line class="ax" x1="1064.30" y1="27.30" x2="1705.10" y2="27.30"/>
<line class="ax" x1="1704.10" y1="27.30" x2="1704.10" y2="851.00"/>
<line class="ax" x1="1064.30" y1="851.00" x2="1705.10" y2="851.00"/>
<line class="ax" x1="1040.30" y1="174.30" x2="1066.30" y2="174.30"/>
<text class="t" x="1033.30" y="185.60" font-size="36.5" text-anchor="end">0</text>
<line class="ax" x1="1040.30" y1="137.40" x2="1066.30" y2="137.40"/>
<text class="t" x="1033.30" y="148.70" font-size="36.5" text-anchor="end">5,000</text>
<line class="ax" x1="1040.30" y1="100.50" x2="1066.30" y2="100.50"/>
<text class="t" x="1033.30" y="111.80" font-size="36.5" text-anchor="end">10,000</text>
<line class="ax" x1="1040.30" y1="63.60" x2="1066.30" y2="63.60"/>
<text class="t" x="1033.30" y="74.90" font-size="36.5" text-anchor="end">15,000</text>
<line class="ax" x1="1040.30" y1="26.70" x2="1066.30" y2="26.70"/>
<text class="t" x="1033.30" y="38.00" font-size="36.5" text-anchor="end">20,000</text>
<line class="ax" x1="1040.30" y1="512.00" x2="1066.30" y2="512.00"/>
<text class="t" x="1033.30" y="523.30" font-size="36.5" text-anchor="end">0</text>
<line class="ax" x1="1052.70" y1="485.30" x2="1066.30" y2="485.30"/>
<line class="ax" x1="1040.30" y1="458.60" x2="1066.30" y2="458.60"/>
<text class="t" x="1033.30" y="469.90" font-size="36.5" text-anchor="end">10</text>
<line class="ax" x1="1052.70" y1="431.90" x2="1066.30" y2="431.90"/>
<line class="ax" x1="1040.30" y1="405.20" x2="1066.30" y2="405.20"/>
<text class="t" x="1033.30" y="416.50" font-size="36.5" text-anchor="end">20</text>
<line class="ax" x1="1052.70" y1="378.50" x2="1066.30" y2="378.50"/>
<line class="ax" x1="1040.30" y1="351.80" x2="1066.30" y2="351.80"/>
<text class="t" x="1033.30" y="363.10" font-size="36.5" text-anchor="end">30</text>
<line class="ax" x1="1052.70" y1="325.10" x2="1066.30" y2="325.10"/>
<line class="ax" x1="1040.30" y1="298.40" x2="1066.30" y2="298.40"/>
<text class="t" x="1033.30" y="309.70" font-size="36.5" text-anchor="end">40</text>
<line class="ax" x1="1052.70" y1="271.70" x2="1066.30" y2="271.70"/>
<line class="ax" x1="1040.30" y1="245.00" x2="1066.30" y2="245.00"/>
<text class="t" x="1033.30" y="256.30" font-size="36.5" text-anchor="end">50</text>
<line class="ax" x1="1052.70" y1="218.30" x2="1066.30" y2="218.30"/>
<line class="ax" x1="1040.30" y1="851.00" x2="1066.30" y2="851.00"/>
<text class="t" x="1033.30" y="862.30" font-size="36.5" text-anchor="end">0</text>
<line class="ax" x1="1052.70" y1="831.36" x2="1066.30" y2="831.36"/>
<line class="ax" x1="1052.70" y1="811.72" x2="1066.30" y2="811.72"/>
<line class="ax" x1="1052.70" y1="792.08" x2="1066.30" y2="792.08"/>
<line class="ax" x1="1052.70" y1="772.44" x2="1066.30" y2="772.44"/>
<line class="ax" x1="1040.30" y1="752.80" x2="1066.30" y2="752.80"/>
<text class="t" x="1033.30" y="764.10" font-size="36.5" text-anchor="end">0.5</text>
<line class="ax" x1="1052.70" y1="733.16" x2="1066.30" y2="733.16"/>
<line class="ax" x1="1052.70" y1="713.52" x2="1066.30" y2="713.52"/>
<line class="ax" x1="1052.70" y1="693.88" x2="1066.30" y2="693.88"/>
<line class="ax" x1="1052.70" y1="674.24" x2="1066.30" y2="674.24"/>
<line class="ax" x1="1040.30" y1="654.60" x2="1066.30" y2="654.60"/>
<text class="t" x="1033.30" y="665.90" font-size="36.5" text-anchor="end">1.0</text>
<line class="ax" x1="1052.70" y1="634.96" x2="1066.30" y2="634.96"/>
<line class="ax" x1="1052.70" y1="615.32" x2="1066.30" y2="615.32"/>
<line class="ax" x1="1052.70" y1="595.68" x2="1066.30" y2="595.68"/>
<line class="ax" x1="1052.70" y1="576.04" x2="1066.30" y2="576.04"/>
<line class="ax" x1="1040.30" y1="556.40" x2="1066.30" y2="556.40"/>
<text class="t" x="1033.30" y="567.70" font-size="36.5" text-anchor="end">1.5</text>
<line class="ax" x1="1065.30" y1="850.00" x2="1065.30" y2="876.00"/>
<line class="ax" x1="1129.18" y1="850.00" x2="1129.18" y2="863.60"/>
<line class="ax" x1="1193.06" y1="850.00" x2="1193.06" y2="876.00"/>
<line class="ax" x1="1256.94" y1="850.00" x2="1256.94" y2="863.60"/>
<line class="ax" x1="1320.82" y1="850.00" x2="1320.82" y2="876.00"/>
<line class="ax" x1="1384.70" y1="850.00" x2="1384.70" y2="863.60"/>
<line class="ax" x1="1448.58" y1="850.00" x2="1448.58" y2="876.00"/>
<line class="ax" x1="1512.46" y1="850.00" x2="1512.46" y2="863.60"/>
<line class="ax" x1="1576.34" y1="850.00" x2="1576.34" y2="876.00"/>
<line class="ax" x1="1640.22" y1="850.00" x2="1640.22" y2="863.60"/>
<line class="ax" x1="1704.10" y1="850.00" x2="1704.10" y2="876.00"/>
<text class="t" x="1065.30" y="907.00" font-size="36.5" text-anchor="middle">0</text>
<text class="t" x="1193.06" y="907.00" font-size="36.5" text-anchor="middle">1</text>
<text class="t" x="1320.82" y="907.00" font-size="36.5" text-anchor="middle">2</text>
<text class="t" x="1448.58" y="907.00" font-size="36.5" text-anchor="middle">3</text>
<text class="t" x="1576.34" y="907.00" font-size="36.5" text-anchor="middle">4</text>
<text class="t" x="1704.10" y="907.00" font-size="36.5" text-anchor="middle">5</text>
<text class="t" x="1384.70" y="962.50" font-size="36.8" text-anchor="middle"><tspan font-size="36.8" dy="0.00">capacity density (MW</tspan><tspan font-size="29.8" dy="10.49">i</tspan><tspan font-size="36.8" dy="-10.49">&#160;km</tspan><tspan font-size="29.8" dy="-13.73">-2</tspan><tspan font-size="36.8" dy="13.73">)</tspan></text>
<text class="t" x="0" y="0" transform="translate(912.90,94.50) rotate(-90)" font-size="36.8" text-anchor="middle"><tspan font-size="36.8" dy="0.00">MW</tspan><tspan font-size="29.8" dy="10.49">i</tspan></text>
<text class="t" x="0" y="0" transform="translate(912.90,357.20) rotate(-90)" font-size="36.8" text-anchor="middle">cap. factor (%)</text>
<text class="t" x="0" y="0" transform="translate(905.20,708.30) rotate(-90)" font-size="36.8" text-anchor="middle">power density</text>
<text class="t" x="0" y="0" transform="translate(949.30,706.60) rotate(-90)" font-size="36.8" text-anchor="middle"><tspan font-size="36.8" dy="0.00">(W</tspan><tspan font-size="29.8" dy="10.49">e</tspan><tspan font-size="36.8" dy="-10.49">&#160;m</tspan><tspan font-size="29.8" dy="-13.73">-2</tspan><tspan font-size="36.8" dy="13.73">)</tspan></text>
<text class="lab" x="848.50" y="26.30" font-size="38" text-anchor="start">B)</text>
<path class="bc" d="M186.50,1228.30 V1223.40 H202.50 V1228.30"/>
<line class="bc" style="fill:none" x1="232.51" y1="1227.80" x2="248.51" y2="1227.80"/>
<line class="bc" style="fill:none" x1="255.51" y1="1227.80" x2="271.51" y2="1227.80"/>
<path class="bc" d="M278.52,1228.30 V1226.20 H294.52 V1228.30"/>
<path class="bc" d="M301.52,1228.30 V1225.40 H317.52 V1228.30"/>
<line class="bc" style="fill:none" x1="324.52" y1="1227.80" x2="340.52" y2="1227.80"/>
<line class="bc" style="fill:none" x1="347.53" y1="1227.80" x2="363.53" y2="1227.80"/>
<path class="bc" d="M370.53,1228.30 V1222.20 H386.53 V1228.30"/>
<path class="bc" d="M393.53,1228.30 V1197.70 H409.53 V1228.30"/>
<path class="bc" d="M416.54,1228.30 V1226.10 H432.54 V1228.30"/>
<path class="bc" d="M439.54,1228.30 V1171.40 H455.54 V1228.30"/>
<path class="bc" d="M462.54,1228.30 V1215.70 H478.54 V1228.30"/>
<path class="bc" d="M485.55,1228.30 V1190.70 H501.55 V1228.30"/>
<path class="bc" d="M508.55,1228.30 V1219.70 H524.55 V1228.30"/>
<path class="bc" d="M531.56,1228.30 V1177.30 H547.56 V1228.30"/>
<path class="bc" d="M554.56,1228.30 V1180.50 H570.56 V1228.30"/>
<path class="bc" d="M577.56,1228.30 V1125.70 H593.56 V1228.30"/>
<path class="bc" d="M600.57,1228.30 V1067.70 H616.57 V1228.30"/>
<path class="bc" d="M623.57,1228.30 V1042.20 H639.57 V1228.30"/>
<path class="bc" d="M646.57,1228.30 V1136.20 H662.57 V1228.30"/>
<path class="bc" d="M669.58,1228.30 V1122.70 H685.58 V1228.30"/>
<path class="bc" d="M692.58,1228.30 V1017.50 H708.58 V1228.30"/>
<path class="bc" d="M715.58,1228.30 V1210.60 H731.58 V1228.30"/>
<path class="bc" d="M738.59,1228.30 V1148.00 H754.59 V1228.30"/>
<path class="bc" d="M761.59,1228.30 V1091.10 H777.59 V1228.30"/>
<path class="bc" d="M784.59,1228.30 V1103.70 H800.59 V1228.30"/>
<path class="bc" d="M807.60,1228.30 V1111.20 H823.60 V1228.30"/>
<line class="gk" x1="189.39" y1="1228.30" x2="826.10" y2="1228.30" stroke-dasharray="1.6 5.589"/>
<line class="gk" x1="189.39" y1="1163.70" x2="826.10" y2="1163.70" stroke-dasharray="1.6 5.589"/>
<line class="gk" x1="189.39" y1="1099.10" x2="826.10" y2="1099.10" stroke-dasharray="1.6 5.589"/>
<line class="gk" x1="189.39" y1="1034.50" x2="826.10" y2="1034.50" stroke-dasharray="1.6 5.589"/>
<line class="gk" x1="298.02" y1="1221.92" x2="298.02" y2="1004.80" stroke-dasharray="1.6 5.578"/>
<line class="gk" x1="413.04" y1="1221.92" x2="413.04" y2="1004.80" stroke-dasharray="1.6 5.578"/>
<line class="gk" x1="528.05" y1="1221.92" x2="528.05" y2="1004.80" stroke-dasharray="1.6 5.578"/>
<line class="gk" x1="643.07" y1="1221.92" x2="643.07" y2="1004.80" stroke-dasharray="1.6 5.578"/>
<line class="gk" x1="758.09" y1="1221.92" x2="758.09" y2="1004.80" stroke-dasharray="1.6 5.578"/>
<line class="gk" x1="189.39" y1="1611.27" x2="826.10" y2="1611.27" stroke-dasharray="1.6 5.589"/>
<line class="gk" x1="189.39" y1="1498.45" x2="826.10" y2="1498.45" stroke-dasharray="1.6 5.589"/>
<line class="gk" x1="189.39" y1="1385.62" x2="566.00" y2="1385.62" stroke-dasharray="1.6 5.589"/>
<line class="gk" x1="189.39" y1="1272.80" x2="826.10" y2="1272.80" stroke-dasharray="1.6 5.589"/>
<line class="gk" x1="298.02" y1="1717.38" x2="298.02" y2="1271.80" stroke-dasharray="1.6 5.922"/>
<line class="gk" x1="413.04" y1="1717.38" x2="413.04" y2="1271.80" stroke-dasharray="1.6 5.922"/>
<line class="gk" x1="528.05" y1="1717.38" x2="528.05" y2="1399.00" stroke-dasharray="1.6 5.922"/>
<line class="gk" x1="528.05" y1="1333.28" x2="528.05" y2="1271.80" stroke-dasharray="1.6 5.922"/>
<line class="gk" x1="643.07" y1="1717.38" x2="643.07" y2="1399.00" stroke-dasharray="1.6 5.922"/>
<line class="gk" x1="643.07" y1="1333.28" x2="643.07" y2="1271.80" stroke-dasharray="1.6 5.922"/>
<line class="gk" x1="758.09" y1="1717.38" x2="758.09" y2="1399.00" stroke-dasharray="1.6 5.922"/>
<line class="gk" x1="758.09" y1="1333.28" x2="758.09" y2="1271.80" stroke-dasharray="1.6 5.922"/>
<rect class="bxc" x="186.25" y="1596.70" width="16.50" height="84.80"/>
<line class="bxc" x1="186.25" y1="1659.70" x2="202.75" y2="1659.70"/>
<line class="bxc" x1="194.50" y1="1525.90" x2="194.50" y2="1596.70"/>
<line class="bxc" x1="189.30" y1="1525.90" x2="199.70" y2="1525.90"/>
<line class="bxc" x1="194.50" y1="1681.50" x2="194.50" y2="1714.20"/>
<line class="bxc" x1="189.30" y1="1714.20" x2="199.70" y2="1714.20"/>
<rect class="bxc" x="278.27" y="1520.70" width="16.50" height="152.30"/>
<line class="bxc" x1="278.27" y1="1622.30" x2="294.77" y2="1622.30"/>
<line class="bxc" x1="286.52" y1="1441.50" x2="286.52" y2="1520.70"/>
<line class="bxc" x1="281.32" y1="1441.50" x2="291.72" y2="1441.50"/>
<line class="bxc" x1="286.52" y1="1673.00" x2="286.52" y2="1718.20"/>
<line class="bxc" x1="281.32" y1="1718.20" x2="291.72" y2="1718.20"/>
<rect class="bxc" x="301.27" y="1526.10" width="16.50" height="148.60"/>
<line class="bxc" x1="301.27" y1="1624.80" x2="317.77" y2="1624.80"/>
<line class="bxc" x1="309.52" y1="1674.70" x2="309.52" y2="1716.40"/>
<line class="bxc" x1="304.32" y1="1716.40" x2="314.72" y2="1716.40"/>
<rect class="bxc" x="347.28" y="1351.20" width="16.50" height="328.30"/>
<line class="bxc" x1="347.28" y1="1545.90" x2="363.78" y2="1545.90"/>
<line class="bxc" x1="355.53" y1="1679.50" x2="355.53" y2="1692.80"/>
<line class="bxc" x1="350.33" y1="1692.80" x2="360.73" y2="1692.80"/>
<rect class="bxc" x="370.28" y="1599.80" width="16.50" height="77.20"/>
<line class="bxc" x1="370.28" y1="1639.30" x2="386.78" y2="1639.30"/>
<line class="bxc" x1="378.53" y1="1511.80" x2="378.53" y2="1599.80"/>
<line class="bxc" x1="373.33" y1="1511.80" x2="383.73" y2="1511.80"/>
<line class="bxc" x1="378.53" y1="1677.00" x2="378.53" y2="1717.40"/>
<line class="bxc" x1="373.33" y1="1717.40" x2="383.73" y2="1717.40"/>
<rect class="bxc" x="393.28" y="1526.20" width="16.50" height="155.50"/>
<line class="bxc" x1="393.28" y1="1617.80" x2="409.78" y2="1617.80"/>
<line class="bxc" x1="401.53" y1="1300.80" x2="401.53" y2="1526.20"/>
<line class="bxc" x1="396.33" y1="1300.80" x2="406.73" y2="1300.80"/>
<line class="bxc" x1="401.53" y1="1681.70" x2="401.53" y2="1718.00"/>
<line class="bxc" x1="396.33" y1="1718.00" x2="406.73" y2="1718.00"/>
<rect class="bxc" x="416.29" y="1537.60" width="16.50" height="152.60"/>
<line class="bxc" x1="416.29" y1="1610.80" x2="432.79" y2="1610.80"/>
<line class="bxc" x1="424.54" y1="1385.40" x2="424.54" y2="1537.60"/>
<line class="bxc" x1="419.34" y1="1385.40" x2="429.74" y2="1385.40"/>
<line class="bxc" x1="424.54" y1="1690.20" x2="424.54" y2="1717.00"/>
<line class="bxc" x1="419.34" y1="1717.00" x2="429.74" y2="1717.00"/>
<rect class="bxc" x="439.29" y="1536.00" width="16.50" height="117.50"/>
<line class="bxc" x1="439.29" y1="1599.50" x2="455.79" y2="1599.50"/>
<line class="bxc" x1="447.54" y1="1385.40" x2="447.54" y2="1536.00"/>
<line class="bxc" x1="442.34" y1="1385.40" x2="452.74" y2="1385.40"/>
<line class="bxc" x1="447.54" y1="1653.50" x2="447.54" y2="1718.00"/>
<line class="bxc" x1="442.34" y1="1718.00" x2="452.74" y2="1718.00"/>
<rect class="bxc" x="462.29" y="1537.60" width="16.50" height="139.50"/>
<line class="bxc" x1="462.29" y1="1630.80" x2="478.79" y2="1630.80"/>
<line class="bxc" x1="470.54" y1="1351.30" x2="470.54" y2="1537.60"/>
<line class="bxc" x1="465.34" y1="1351.30" x2="475.74" y2="1351.30"/>
<line class="bxc" x1="470.54" y1="1677.10" x2="470.54" y2="1718.00"/>
<line class="bxc" x1="465.34" y1="1718.00" x2="475.74" y2="1718.00"/>
<rect class="bxc" x="485.30" y="1512.20" width="16.50" height="162.40"/>
<line class="bxc" x1="485.30" y1="1610.80" x2="501.80" y2="1610.80"/>
<line class="bxc" x1="493.55" y1="1272.80" x2="493.55" y2="1512.20"/>
<line class="bxc" x1="488.35" y1="1272.80" x2="498.75" y2="1272.80"/>
<line class="bxc" x1="493.55" y1="1674.60" x2="493.55" y2="1718.00"/>
<line class="bxc" x1="488.35" y1="1718.00" x2="498.75" y2="1718.00"/>
<rect class="bxc" x="508.30" y="1536.00" width="16.50" height="156.90"/>
<line class="bxc" x1="508.30" y1="1638.90" x2="524.80" y2="1638.90"/>
<line class="bxc" x1="516.55" y1="1351.30" x2="516.55" y2="1536.00"/>
<line class="bxc" x1="511.35" y1="1351.30" x2="521.75" y2="1351.30"/>
<line class="bxc" x1="516.55" y1="1692.90" x2="516.55" y2="1717.70"/>
<line class="bxc" x1="511.35" y1="1717.70" x2="521.75" y2="1717.70"/>
<rect class="bxc" x="531.31" y="1541.10" width="16.50" height="122.90"/>
<line class="bxc" x1="531.31" y1="1607.20" x2="547.81" y2="1607.20"/>
<line class="bxc" x1="539.56" y1="1385.40" x2="539.56" y2="1541.10"/>
<line class="bxc" x1="534.36" y1="1385.40" x2="544.76" y2="1385.40"/>
<line class="bxc" x1="539.56" y1="1664.00" x2="539.56" y2="1718.00"/>
<line class="bxc" x1="534.36" y1="1718.00" x2="544.76" y2="1718.00"/>
<rect class="bxc" x="554.31" y="1512.20" width="16.50" height="155.60"/>
<line class="bxc" x1="554.31" y1="1602.80" x2="570.81" y2="1602.80"/>
<line class="bxc" x1="562.56" y1="1300.80" x2="562.56" y2="1512.20"/>
<line class="bxc" x1="557.36" y1="1300.80" x2="567.76" y2="1300.80"/>
<line class="bxc" x1="562.56" y1="1667.80" x2="562.56" y2="1718.00"/>
<line class="bxc" x1="557.36" y1="1718.00" x2="567.76" y2="1718.00"/>
<rect class="bxc" x="577.31" y="1579.30" width="16.50" height="94.60"/>
<line class="bxc" x1="577.31" y1="1629.80" x2="593.81" y2="1629.80"/>
<line class="bxc" x1="585.56" y1="1441.60" x2="585.56" y2="1579.30"/>
<line class="bxc" x1="580.36" y1="1441.60" x2="590.76" y2="1441.60"/>
<line class="bxc" x1="585.56" y1="1673.90" x2="585.56" y2="1718.00"/>
<line class="bxc" x1="580.36" y1="1718.00" x2="590.76" y2="1718.00"/>
<rect class="bxc" x="600.32" y="1579.30" width="16.50" height="97.50"/>
<line class="bxc" x1="600.32" y1="1630.50" x2="616.82" y2="1630.50"/>
<line class="bxc" x1="608.57" y1="1441.60" x2="608.57" y2="1579.30"/>
<line class="bxc" x1="603.37" y1="1441.60" x2="613.77" y2="1441.60"/>
<line class="bxc" x1="608.57" y1="1676.80" x2="608.57" y2="1718.00"/>
<line class="bxc" x1="603.37" y1="1718.00" x2="613.77" y2="1718.00"/>
<rect class="bxc" x="623.32" y="1575.40" width="16.50" height="101.70"/>
<line class="bxc" x1="623.32" y1="1630.80" x2="639.82" y2="1630.80"/>
<line class="bxc" x1="631.57" y1="1427.80" x2="631.57" y2="1575.40"/>
<line class="bxc" x1="626.37" y1="1427.80" x2="636.77" y2="1427.80"/>
<line class="bxc" x1="631.57" y1="1677.10" x2="631.57" y2="1718.00"/>
<line class="bxc" x1="626.37" y1="1718.00" x2="636.77" y2="1718.00"/>
<rect class="bxc" x="646.32" y="1592.50" width="16.50" height="85.30"/>
<line class="bxc" x1="646.32" y1="1638.90" x2="662.82" y2="1638.90"/>
<line class="bxc" x1="654.57" y1="1486.70" x2="654.57" y2="1592.50"/>
<line class="bxc" x1="649.37" y1="1486.70" x2="659.77" y2="1486.70"/>
<line class="bxc" x1="654.57" y1="1677.80" x2="654.57" y2="1718.00"/>
<line class="bxc" x1="649.37" y1="1718.00" x2="659.77" y2="1718.00"/>
<rect class="bxc" x="669.33" y="1582.70" width="16.50" height="98.20"/>
<line class="bxc" x1="669.33" y1="1638.90" x2="685.83" y2="1638.90"/>
<line class="bxc" x1="677.58" y1="1441.50" x2="677.58" y2="1582.70"/>
<line class="bxc" x1="672.38" y1="1441.50" x2="682.78" y2="1441.50"/>
<line class="bxc" x1="677.58" y1="1680.90" x2="677.58" y2="1718.00"/>
<line class="bxc" x1="672.38" y1="1718.00" x2="682.78" y2="1718.00"/>
<rect class="bxc" x="692.33" y="1588.50" width="16.50" height="95.60"/>
<line class="bxc" x1="692.33" y1="1647.60" x2="708.83" y2="1647.60"/>
<line class="bxc" x1="700.58" y1="1452.90" x2="700.58" y2="1588.50"/>
<line class="bxc" x1="695.38" y1="1452.90" x2="705.78" y2="1452.90"/>
<line class="bxc" x1="700.58" y1="1684.10" x2="700.58" y2="1718.00"/>
<line class="bxc" x1="695.38" y1="1718.00" x2="705.78" y2="1718.00"/>
<rect class="bxc" x="715.33" y="1603.80" width="16.50" height="83.20"/>
<line class="bxc" x1="715.33" y1="1655.60" x2="731.83" y2="1655.60"/>
<line class="bxc" x1="723.58" y1="1484.10" x2="723.58" y2="1603.80"/>
<line class="bxc" x1="718.38" y1="1484.10" x2="728.78" y2="1484.10"/>
<line class="bxc" x1="723.58" y1="1687.00" x2="723.58" y2="1718.00"/>
<line class="bxc" x1="718.38" y1="1718.00" x2="728.78" y2="1718.00"/>
<rect class="bxc" x="738.34" y="1619.60" width="16.50" height="69.20"/>
<line class="bxc" x1="738.34" y1="1661.80" x2="754.84" y2="1661.80"/>
<line class="bxc" x1="746.59" y1="1516.70" x2="746.59" y2="1619.60"/>
<line class="bxc" x1="741.39" y1="1516.70" x2="751.79" y2="1516.70"/>
<line class="bxc" x1="746.59" y1="1688.80" x2="746.59" y2="1718.00"/>
<line class="bxc" x1="741.39" y1="1718.00" x2="751.79" y2="1718.00"/>
<rect class="bxc" x="761.34" y="1603.80" width="16.50" height="81.80"/>
<line class="bxc" x1="761.34" y1="1649.80" x2="777.84" y2="1649.80"/>
<line class="bxc" x1="769.59" y1="1481.80" x2="769.59" y2="1603.80"/>
<line class="bxc" x1="764.39" y1="1481.80" x2="774.79" y2="1481.80"/>
<line class="bxc" x1="769.59" y1="1685.60" x2="769.59" y2="1718.00"/>
<line class="bxc" x1="764.39" y1="1718.00" x2="774.79" y2="1718.00"/>
<rect class="bxc" x="784.34" y="1619.50" width="16.50" height="66.50"/>
<line class="bxc" x1="784.34" y1="1653.70" x2="800.84" y2="1653.70"/>
<line class="bxc" x1="792.59" y1="1521.80" x2="792.59" y2="1619.50"/>
<line class="bxc" x1="787.39" y1="1521.80" x2="797.79" y2="1521.80"/>
<line class="bxc" x1="792.59" y1="1686.00" x2="792.59" y2="1718.00"/>
<line class="bxc" x1="787.39" y1="1718.00" x2="797.79" y2="1718.00"/>
<rect class="bxc" x="807.35" y="1610.80" width="16.50" height="73.30"/>
<line class="bxc" x1="807.35" y1="1648.60" x2="823.85" y2="1648.60"/>
<line class="bxc" x1="815.60" y1="1507.20" x2="815.60" y2="1610.80"/>
<line class="bxc" x1="810.40" y1="1507.20" x2="820.80" y2="1507.20"/>
<line class="bxc" x1="815.60" y1="1684.10" x2="815.60" y2="1718.00"/>
<line class="bxc" x1="810.40" y1="1718.00" x2="820.80" y2="1718.00"/>
<circle class="m" cx="194.50" cy="1639.60" r="4.6"/>
<circle class="m" cx="286.52" cy="1610.00" r="4.6"/>
<circle class="m" cx="309.52" cy="1605.40" r="4.6"/>
<circle class="m" cx="355.53" cy="1511.80" r="4.6"/>
<circle class="m" cx="378.53" cy="1631.60" r="4.6"/>
<circle class="m" cx="401.53" cy="1584.90" r="4.6"/>
<circle class="m" cx="424.54" cy="1579.00" r="4.6"/>
<circle class="m" cx="447.54" cy="1565.20" r="4.6"/>
<circle class="m" cx="470.54" cy="1591.40" r="4.6"/>
<circle class="m" cx="493.55" cy="1575.10" r="4.6"/>
<circle class="m" cx="516.55" cy="1598.40" r="4.6"/>
<circle class="m" cx="539.56" cy="1594.10" r="4.6"/>
<circle class="m" cx="562.56" cy="1583.80" r="4.6"/>
<circle class="m" cx="585.56" cy="1617.40" r="4.6"/>
<circle class="m" cx="608.57" cy="1613.30" r="4.6"/>
<circle class="m" cx="631.57" cy="1612.60" r="4.6"/>
<circle class="m" cx="654.57" cy="1625.70" r="4.6"/>
<circle class="m" cx="677.58" cy="1619.90" r="4.6"/>
<circle class="m" cx="700.58" cy="1619.60" r="4.6"/>
<circle class="m" cx="723.58" cy="1621.80" r="4.6"/>
<circle class="m" cx="746.59" cy="1649.40" r="4.6"/>
<circle class="m" cx="769.59" cy="1638.90" r="4.6"/>
<circle class="m" cx="792.59" cy="1646.50" r="4.6"/>
<circle class="m" cx="815.60" cy="1640.30" r="4.6"/>
<line class="rl" x1="401.6" y1="1555.7" x2="827.1" y2="1629.3"/>
<text class="r" x="821.30" y="1377.60" font-size="36.8" text-anchor="end" fill="#e31a1c">-7.1% per year</text>
<line class="ax" x1="183.00" y1="1001.80" x2="183.00" y2="1229.30"/>
<line class="ax" x1="183.00" y1="1271.80" x2="183.00" y2="1724.10"/>
<line class="ax" x1="170.40" y1="1002.80" x2="828.10" y2="1002.80"/>
<line class="ax" x1="827.10" y1="1002.80" x2="827.10" y2="1724.10"/>
<line class="ax" x1="182.00" y1="1724.10" x2="828.10" y2="1724.10"/>
<line class="ax" x1="158.00" y1="1228.30" x2="184.00" y2="1228.30"/>
<text class="t" x="151.50" y="1239.70" font-size="36.8" text-anchor="end">0</text>
<line class="ax" x1="170.40" y1="1196.00" x2="184.00" y2="1196.00"/>
<line class="ax" x1="158.00" y1="1163.70" x2="184.00" y2="1163.70"/>
<text class="t" x="151.50" y="1175.10" font-size="36.8" text-anchor="end">2000</text>
<line class="ax" x1="170.40" y1="1131.40" x2="184.00" y2="1131.40"/>
<line class="ax" x1="158.00" y1="1099.10" x2="184.00" y2="1099.10"/>
<text class="t" x="151.50" y="1110.50" font-size="36.8" text-anchor="end">4000</text>
<line class="ax" x1="170.40" y1="1066.80" x2="184.00" y2="1066.80"/>
<line class="ax" x1="158.00" y1="1034.50" x2="184.00" y2="1034.50"/>
<text class="t" x="151.50" y="1045.90" font-size="36.8" text-anchor="end">6000</text>
<line class="ax" x1="158.00" y1="1724.10" x2="184.00" y2="1724.10"/>
<text class="t" x="151.50" y="1735.50" font-size="36.8" text-anchor="end">0</text>
<line class="ax" x1="170.40" y1="1667.69" x2="184.00" y2="1667.69"/>
<line class="ax" x1="158.00" y1="1611.27" x2="184.00" y2="1611.27"/>
<text class="t" x="151.50" y="1622.67" font-size="36.8" text-anchor="end">2</text>
<line class="ax" x1="170.40" y1="1554.86" x2="184.00" y2="1554.86"/>
<line class="ax" x1="158.00" y1="1498.45" x2="184.00" y2="1498.45"/>
<text class="t" x="151.50" y="1509.85" font-size="36.8" text-anchor="end">4</text>
<line class="ax" x1="170.40" y1="1442.04" x2="184.00" y2="1442.04"/>
<line class="ax" x1="158.00" y1="1385.62" x2="184.00" y2="1385.62"/>
<text class="t" x="151.50" y="1397.03" font-size="36.8" text-anchor="end">6</text>
<line class="ax" x1="170.40" y1="1329.21" x2="184.00" y2="1329.21"/>
<line class="ax" x1="158.00" y1="1272.80" x2="184.00" y2="1272.80"/>
<text class="t" x="151.50" y="1284.20" font-size="36.8" text-anchor="end">8</text>
<line class="ax" x1="183.00" y1="1723.10" x2="183.00" y2="1749.10"/>
<line class="ax" x1="206.00" y1="1723.10" x2="206.00" y2="1736.70"/>
<line class="ax" x1="229.01" y1="1723.10" x2="229.01" y2="1736.70"/>
<line class="ax" x1="252.01" y1="1723.10" x2="252.01" y2="1736.70"/>
<line class="ax" x1="275.01" y1="1723.10" x2="275.01" y2="1736.70"/>
<line class="ax" x1="298.02" y1="1723.10" x2="298.02" y2="1749.10"/>
<line class="ax" x1="321.02" y1="1723.10" x2="321.02" y2="1736.70"/>
<line class="ax" x1="344.02" y1="1723.10" x2="344.02" y2="1736.70"/>
<line class="ax" x1="367.03" y1="1723.10" x2="367.03" y2="1736.70"/>
<line class="ax" x1="390.03" y1="1723.10" x2="390.03" y2="1736.70"/>
<line class="ax" x1="413.04" y1="1723.10" x2="413.04" y2="1749.10"/>
<line class="ax" x1="436.04" y1="1723.10" x2="436.04" y2="1736.70"/>
<line class="ax" x1="459.04" y1="1723.10" x2="459.04" y2="1736.70"/>
<line class="ax" x1="482.05" y1="1723.10" x2="482.05" y2="1736.70"/>
<line class="ax" x1="505.05" y1="1723.10" x2="505.05" y2="1736.70"/>
<line class="ax" x1="528.05" y1="1723.10" x2="528.05" y2="1749.10"/>
<line class="ax" x1="551.06" y1="1723.10" x2="551.06" y2="1736.70"/>
<line class="ax" x1="574.06" y1="1723.10" x2="574.06" y2="1736.70"/>
<line class="ax" x1="597.06" y1="1723.10" x2="597.06" y2="1736.70"/>
<line class="ax" x1="620.07" y1="1723.10" x2="620.07" y2="1736.70"/>
<line class="ax" x1="643.07" y1="1723.10" x2="643.07" y2="1749.10"/>
<line class="ax" x1="666.08" y1="1723.10" x2="666.08" y2="1736.70"/>
<line class="ax" x1="689.08" y1="1723.10" x2="689.08" y2="1736.70"/>
<line class="ax" x1="712.08" y1="1723.10" x2="712.08" y2="1736.70"/>
<line class="ax" x1="735.09" y1="1723.10" x2="735.09" y2="1736.70"/>
<line class="ax" x1="758.09" y1="1723.10" x2="758.09" y2="1749.10"/>
<line class="ax" x1="781.09" y1="1723.10" x2="781.09" y2="1736.70"/>
<line class="ax" x1="804.10" y1="1723.10" x2="804.10" y2="1736.70"/>
<line class="ax" x1="827.10" y1="1723.10" x2="827.10" y2="1736.70"/>
<text class="t" x="183.00" y="1780.10" font-size="36.8" text-anchor="middle">1990</text>
<text class="t" x="298.02" y="1780.10" font-size="36.8" text-anchor="middle">1995</text>
<text class="t" x="413.04" y="1780.10" font-size="36.8" text-anchor="middle">2000</text>
<text class="t" x="528.05" y="1780.10" font-size="36.8" text-anchor="middle">2005</text>
<text class="t" x="643.07" y="1780.10" font-size="36.8" text-anchor="middle">2010</text>
<text class="t" x="758.09" y="1780.10" font-size="36.8" text-anchor="middle">2015</text>
<text class="t" x="505.05" y="1834.50" font-size="36.8" text-anchor="middle">first year of operation</text>
<text class="t" x="0" y="0" transform="translate(27.80,1127.00) rotate(-90)" font-size="36.8" text-anchor="middle">turb. count</text>
<text class="t" x="0" y="0" transform="translate(32.20,1534.20) rotate(-90)" font-size="36.8" text-anchor="middle">capacity density</text>
<text class="t" x="0" y="0" transform="translate(76.40,1535.40) rotate(-90)" font-size="36.8" text-anchor="middle"><tspan font-size="36.8" dy="0.00">(MW</tspan><tspan font-size="29.8" dy="10.49">i</tspan><tspan font-size="36.8" dy="-10.49">&#160;km</tspan><tspan font-size="29.8" dy="-13.73">-2</tspan><tspan font-size="36.8" dy="13.73">)</tspan></text>
<text class="lab" x="-1.50" y="1025.50" font-size="38" text-anchor="start">C)</text>
<line class="gD" x1="1078.41" y1="1150.90" x2="1711.20" y2="1150.90" stroke-dasharray="1.3 12.762"/>
<line class="gD" x1="1078.41" y1="1101.90" x2="1711.20" y2="1101.90" stroke-dasharray="1.3 12.762"/>
<line class="gD" x1="1078.41" y1="1052.90" x2="1711.20" y2="1052.90" stroke-dasharray="1.3 12.762"/>
<line class="gD" x1="1205.62" y1="1135.22" x2="1205.62" y2="1006.00" stroke-dasharray="1.3 15.033"/>
<line class="gD" x1="1346.24" y1="1135.22" x2="1346.24" y2="1006.00" stroke-dasharray="1.3 15.033"/>
<line class="gD" x1="1486.86" y1="1135.22" x2="1486.86" y2="1006.00" stroke-dasharray="1.3 15.033"/>
<line class="gD" x1="1627.48" y1="1135.22" x2="1627.48" y2="1006.00" stroke-dasharray="1.3 15.033"/>
<line class="gD" x1="1078.41" y1="1645.94" x2="1711.20" y2="1645.94" stroke-dasharray="1.3 12.762"/>
<line class="gD" x1="1078.41" y1="1570.89" x2="1711.20" y2="1570.89" stroke-dasharray="1.3 12.762"/>
<line class="gD" x1="1078.41" y1="1495.83" x2="1711.20" y2="1495.83" stroke-dasharray="1.3 12.762"/>
<line class="gD" x1="1078.41" y1="1420.77" x2="1711.20" y2="1420.77" stroke-dasharray="1.3 12.762"/>
<line class="gD" x1="1078.41" y1="1345.71" x2="1711.20" y2="1345.71" stroke-dasharray="1.3 12.762"/>
<line class="gD" x1="1078.41" y1="1270.66" x2="1711.20" y2="1270.66" stroke-dasharray="1.3 12.762"/>
<line class="gD" x1="1078.41" y1="1195.60" x2="1711.20" y2="1195.60" stroke-dasharray="1.3 12.762"/>
<line class="gD" x1="1205.62" y1="1706.64" x2="1205.62" y2="1194.60" stroke-dasharray="1.3 13.711"/>
<line class="gD" x1="1346.24" y1="1706.64" x2="1346.24" y2="1194.60" stroke-dasharray="1.3 13.711"/>
<line class="gD" x1="1486.86" y1="1706.64" x2="1486.86" y2="1194.60" stroke-dasharray="1.3 13.711"/>
<line class="gD" x1="1627.48" y1="1706.64" x2="1627.48" y2="1194.60" stroke-dasharray="1.3 13.711"/>
<clipPath id="clipD"><rect x="1065.00" y="1004.00" width="647.20" height="148.90"/></clipPath>
<g clip-path="url(#clipD)">
<path class="hk" d="M1055.15,1150.90 V1149.30 H1074.85 V1150.90"/>
<path class="hk" d="M1083.27,1150.90 V1140.20 H1102.97 V1150.90"/>
<path class="hk" d="M1111.40,1150.90 V1135.30 H1131.10 V1150.90"/>
<path class="hk" d="M1139.52,1150.90 V1113.50 H1159.22 V1150.90"/>
<path class="hk" d="M1167.65,1150.90 V1110.10 H1187.35 V1150.90"/>
<path class="hk" d="M1195.77,1150.90 V1090.00 H1215.47 V1150.90"/>
<path class="hk" d="M1223.89,1150.90 V1139.50 H1243.59 V1150.90"/>
<path class="hk" d="M1252.02,1150.90 V1064.20 H1271.72 V1150.90"/>
<path class="hk" d="M1280.14,1150.90 V1132.40 H1299.84 V1150.90"/>
<path class="hk" d="M1308.27,1150.90 V1092.40 H1327.97 V1150.90"/>
<path class="hk" d="M1336.39,1150.90 V1019.10 H1356.09 V1150.90"/>
<path class="hk" d="M1364.51,1150.90 V1136.80 H1384.21 V1150.90"/>
<path class="hk" d="M1392.64,1150.90 V1110.80 H1412.34 V1150.90"/>
<path class="hk" d="M1448.89,1150.90 V1122.80 H1468.59 V1150.90"/>
<path class="hk" d="M1477.01,1150.90 V1136.80 H1496.71 V1150.90"/>
<path class="hk" d="M1617.63,1150.90 V1145.10 H1637.33 V1150.90"/>
<path class="hk" d="M1673.88,1150.90 V1144.10 H1693.58 V1150.90"/>
<path class="ho" d="M1055.15,1150.90 V1146.80 H1074.85 V1150.90"/>
<path class="ho" d="M1083.27,1150.90 V1140.70 H1102.97 V1150.90"/>
<path class="ho" d="M1111.40,1150.90 V1128.00 H1131.10 V1150.90"/>
<path class="ho" d="M1139.52,1150.90 V1129.70 H1159.22 V1150.90"/>
<path class="ho" d="M1167.65,1150.90 V1114.70 H1187.35 V1150.90"/>
<path class="ho" d="M1195.77,1150.90 V1102.90 H1215.47 V1150.90"/>
<path class="ho" d="M1223.89,1150.90 V1124.30 H1243.59 V1150.90"/>
<path class="ho" d="M1252.02,1150.90 V1114.50 H1271.72 V1150.90"/>
<path class="ho" d="M1280.14,1150.90 V1129.40 H1299.84 V1150.90"/>
<path class="ho" d="M1308.27,1150.90 V1132.10 H1327.97 V1150.90"/>
<path class="ho" d="M1336.39,1150.90 V1124.30 H1356.09 V1150.90"/>
<path class="ho" d="M1364.51,1150.90 V1147.80 H1384.21 V1150.90"/>
<path class="ho" d="M1392.64,1150.90 V1147.30 H1412.34 V1150.90"/>
<path class="ho" d="M1420.76,1150.90 V1147.60 H1440.46 V1150.90"/>
<path class="ho" d="M1448.89,1150.90 V1146.80 H1468.59 V1150.90"/>
<line class="ho" style="stroke-width:1.1" x1="1476.01" y1="1150.60" x2="1497.71" y2="1150.60"/>
<line class="ho" style="stroke-width:1.1" x1="1504.13" y1="1150.60" x2="1525.83" y2="1150.60"/>
<line class="ho" style="stroke-width:1.1" x1="1532.26" y1="1150.60" x2="1553.96" y2="1150.60"/>
<line class="ho" style="stroke-width:1.1" x1="1560.38" y1="1150.60" x2="1582.08" y2="1150.60"/>
<line class="ho" style="stroke-width:1.1" x1="1588.51" y1="1150.60" x2="1610.21" y2="1150.60"/>
<line class="ho" style="stroke-width:1.1" x1="1616.63" y1="1150.60" x2="1638.33" y2="1150.60"/>
<line class="ho" style="stroke-width:1.1" x1="1644.75" y1="1150.60" x2="1666.45" y2="1150.60"/>
<line class="ho" style="stroke-width:1.1" x1="1672.88" y1="1150.60" x2="1694.58" y2="1150.60"/>
<line class="ho" style="stroke-width:1.1" x1="1701.00" y1="1150.60" x2="1722.70" y2="1150.60"/>
</g>
<circle class="co" cx="1203.9" cy="1485.6" r="8.7"/>
<circle class="co" cx="1274.6" cy="1502.0" r="8.7"/>
<circle class="co" cx="1370.5" cy="1513.6" r="8.7"/>
<circle class="co" cx="1207.8" cy="1517.8" r="8.7"/>
<circle class="co" cx="1231.3" cy="1521.7" r="8.7"/>
<circle class="co" cx="1227.0" cy="1535.7" r="8.7"/>
<circle class="co" cx="1144.6" cy="1556.9" r="8.7"/>
<circle class="co" cx="1275.2" cy="1544.4" r="8.7"/>
<circle class="co" cx="1113.8" cy="1567.1" r="8.7"/>
<circle class="co" cx="1211.0" cy="1577.1" r="8.7"/>
<circle class="co" cx="1279.4" cy="1575.2" r="8.7"/>
<circle class="co" cx="1155.2" cy="1584.8" r="8.7"/>
<circle class="co" cx="1157.1" cy="1586.8" r="8.7"/>
<circle class="co" cx="1204.3" cy="1590.6" r="8.7"/>
<circle class="co" cx="1270.8" cy="1599.3" r="8.7"/>
<circle class="co" cx="1331.4" cy="1589.7" r="8.7"/>
<circle class="co" cx="1345.9" cy="1593.5" r="8.7"/>
<circle class="co" cx="1351.7" cy="1598.3" r="8.7"/>
<circle class="co" cx="1165.8" cy="1608.9" r="8.7"/>
<circle class="co" cx="1233.2" cy="1618.6" r="8.7"/>
<circle class="co" cx="1275.6" cy="1609.9" r="8.7"/>
<circle class="co" cx="1275.6" cy="1617.6" r="8.7"/>
<circle class="co" cx="1311.2" cy="1614.7" r="8.7"/>
<circle class="co" cx="1344.0" cy="1613.7" r="8.7"/>
<circle class="co" cx="1354.6" cy="1619.5" r="8.7"/>
<circle class="co" cx="1102.2" cy="1624.3" r="8.7"/>
<circle class="co" cx="1135.9" cy="1627.2" r="8.7"/>
<circle class="co" cx="1161.0" cy="1623.4" r="8.7"/>
<circle class="co" cx="1295.8" cy="1628.2" r="8.7"/>
<circle class="co" cx="1318.0" cy="1631.1" r="8.7"/>
<circle class="co" cx="1303.5" cy="1635.9" r="8.7"/>
<circle class="co" cx="1117.6" cy="1634.9" r="8.7"/>
<circle class="co" cx="1149.4" cy="1634.9" r="8.7"/>
<circle class="co" cx="1170.6" cy="1639.8" r="8.7"/>
<circle class="co" cx="1097.4" cy="1640.7" r="8.7"/>
<circle class="co" cx="1205.3" cy="1634.9" r="8.7"/>
<circle class="co" cx="1207.2" cy="1646.5" r="8.7"/>
<circle class="co" cx="1231.3" cy="1644.6" r="8.7"/>
<circle class="co" cx="1254.4" cy="1639.8" r="8.7"/>
<circle class="co" cx="1265.0" cy="1642.6" r="8.7"/>
<circle class="co" cx="1274.6" cy="1631.1" r="8.7"/>
<circle class="co" cx="1275.6" cy="1642.6" r="8.7"/>
<circle class="co" cx="1340.1" cy="1646.5" r="8.7"/>
<circle class="co" cx="1359.4" cy="1642.6" r="8.7"/>
<circle class="co" cx="1347.8" cy="1652.3" r="8.7"/>
<circle class="co" cx="1351.7" cy="1660.0" r="8.7"/>
<circle class="co" cx="1316.0" cy="1661.9" r="8.7"/>
<circle class="co" cx="1291.9" cy="1667.7" r="8.7"/>
<circle class="co" cx="1256.3" cy="1667.7" r="8.7"/>
<circle class="co" cx="1242.8" cy="1658.1" r="8.7"/>
<circle class="co" cx="1237.0" cy="1675.4" r="8.7"/>
<circle class="co" cx="1274.6" cy="1661.9" r="8.7"/>
<circle class="co" cx="1274.6" cy="1675.4" r="8.7"/>
<circle class="co" cx="1275.6" cy="1685.0" r="8.7"/>
<circle class="co" cx="1276.5" cy="1690.8" r="8.7"/>
<circle class="co" cx="1288.1" cy="1688.9" r="8.7"/>
<circle class="co" cx="1318.0" cy="1680.2" r="8.7"/>
<circle class="co" cx="1303.5" cy="1698.5" r="8.7"/>
<circle class="co" cx="1414.4" cy="1633.7" r="8.7"/>
<circle class="co" cx="1455.6" cy="1640.6" r="8.7"/>
<circle class="co" cx="1462.7" cy="1667.6" r="8.7"/>
<circle class="co" cx="1391.1" cy="1674.2" r="8.7"/>
<circle class="co" cx="1080.1" cy="1650.1" r="8.7"/>
<circle class="co" cx="1182.5" cy="1647.6" r="8.7"/>
<circle class="co" cx="1208.2" cy="1648.8" r="8.7"/>
<circle class="co" cx="1232.8" cy="1646.4" r="8.7"/>
<circle class="co" cx="1242.6" cy="1658.7" r="8.7"/>
<circle class="co" cx="1246.2" cy="1655.0" r="8.7"/>
<circle class="co" cx="1083.2" cy="1661.1" r="8.7"/>
<circle class="co" cx="1075.8" cy="1666.0" r="8.7"/>
<circle class="co" cx="1091.8" cy="1659.9" r="8.7"/>
<circle class="co" cx="1100.4" cy="1655.0" r="8.7"/>
<circle class="co" cx="1129.8" cy="1658.7" r="8.7"/>
<circle class="co" cx="1139.6" cy="1663.6" r="8.7"/>
<circle class="co" cx="1148.2" cy="1651.3" r="8.7"/>
<circle class="co" cx="1155.5" cy="1658.7" r="8.7"/>
<circle class="co" cx="1165.3" cy="1663.6" r="8.7"/>
<circle class="co" cx="1178.8" cy="1658.7" r="8.7"/>
<circle class="co" cx="1189.9" cy="1663.6" r="8.7"/>
<circle class="co" cx="1078.3" cy="1688.1" r="8.7"/>
<circle class="co" cx="1073.4" cy="1691.8" r="8.7"/>
<circle class="co" cx="1079.5" cy="1695.4" r="8.7"/>
<circle class="co" cx="1076.5" cy="1700.3" r="8.7"/>
<circle class="co" cx="1095.5" cy="1691.8" r="8.7"/>
<circle class="co" cx="1105.3" cy="1688.1" r="8.7"/>
<circle class="co" cx="1112.6" cy="1694.2" r="8.7"/>
<circle class="co" cx="1121.2" cy="1700.3" r="8.7"/>
<circle class="co" cx="1128.6" cy="1681.9" r="8.7"/>
<circle class="co" cx="1134.7" cy="1678.3" r="8.7"/>
<circle class="co" cx="1143.3" cy="1675.8" r="8.7"/>
<circle class="co" cx="1151.8" cy="1685.6" r="8.7"/>
<circle class="co" cx="1159.2" cy="1680.7" r="8.7"/>
<circle class="co" cx="1165.3" cy="1688.1" r="8.7"/>
<circle class="co" cx="1172.7" cy="1678.3" r="8.7"/>
<circle class="co" cx="1180.0" cy="1685.6" r="8.7"/>
<circle class="co" cx="1187.4" cy="1691.8" r="8.7"/>
<circle class="co" cx="1196.0" cy="1688.1" r="8.7"/>
<circle class="co" cx="1205.8" cy="1669.7" r="8.7"/>
<circle class="co" cx="1208.2" cy="1674.6" r="8.7"/>
<circle class="co" cx="1205.8" cy="1690.5" r="8.7"/>
<circle class="co" cx="1209.5" cy="1695.4" r="8.7"/>
<circle class="co" cx="1219.3" cy="1669.7" r="8.7"/>
<circle class="co" cx="1226.6" cy="1675.8" r="8.7"/>
<circle class="co" cx="1232.8" cy="1680.7" r="8.7"/>
<circle class="co" cx="1236.4" cy="1688.1" r="8.7"/>
<circle class="co" cx="1242.6" cy="1688.1" r="8.7"/>
<circle class="co" cx="1224.2" cy="1691.8" r="8.7"/>
<circle class="co" cx="1229.1" cy="1697.9" r="8.7"/>
<circle class="co" cx="1224.2" cy="1704.0" r="8.7"/>
<circle class="co" cx="1213.1" cy="1683.2" r="8.7"/>
<circle class="co" cx="1066.0" cy="1716.3" r="8.7"/>
<circle class="co" cx="1070.9" cy="1719.9" r="8.7"/>
<circle class="co" cx="1075.8" cy="1713.8" r="8.7"/>
<circle class="co" cx="1083.2" cy="1717.5" r="8.7"/>
<circle class="co" cx="1090.6" cy="1712.6" r="8.7"/>
<circle class="co" cx="1097.9" cy="1711.5" r="8.7"/>
<circle class="co" cx="1101.6" cy="1707.7" r="8.7"/>
<circle class="co" cx="1110.2" cy="1710.1" r="8.7"/>
<circle class="co" cx="1117.5" cy="1706.5" r="8.7"/>
<circle class="co" cx="1123.7" cy="1711.5" r="8.7"/>
<circle class="co" cx="1131.0" cy="1704.0" r="8.7"/>
<circle class="co" cx="1138.4" cy="1707.7" r="8.7"/>
<circle class="co" cx="1145.7" cy="1700.3" r="8.7"/>
<circle class="co" cx="1153.1" cy="1704.0" r="8.7"/>
<circle class="co" cx="1160.4" cy="1706.5" r="8.7"/>
<circle class="co" cx="1167.8" cy="1700.3" r="8.7"/>
<circle class="co" cx="1175.1" cy="1697.9" r="8.7"/>
<circle class="co" cx="1182.5" cy="1702.8" r="8.7"/>
<circle class="co" cx="1177.6" cy="1694.2" r="8.7"/>
<circle class="co" cx="1091.8" cy="1704.0" r="8.7"/>
<circle class="co" cx="1085.6" cy="1700.3" r="8.7"/>
<circle class="co" cx="1108.9" cy="1700.3" r="8.7"/>
<circle class="co" cx="1138.4" cy="1695.4" r="8.7"/>
<circle class="co" cx="1148.2" cy="1691.8" r="8.7"/>
<circle class="co" cx="1123.7" cy="1690.5" r="8.7"/>
<circle class="co" cx="1116.3" cy="1685.6" r="8.7"/>
<circle class="co" cx="1107.7" cy="1675.8" r="8.7"/>
<circle class="co" cx="1096.7" cy="1673.4" r="8.7"/>
<circle class="co" cx="1086.9" cy="1675.8" r="8.7"/>
<circle class="co" cx="1118.7" cy="1668.5" r="8.7"/>
<circle class="co" cx="1191.1" cy="1675.8" r="8.7"/>
<circle class="co" cx="1170.2" cy="1668.5" r="8.7"/>
<circle class="co" cx="1161.7" cy="1670.9" r="8.7"/>
<circle class="co" cx="1198.4" cy="1700.3" r="8.7"/>
<circle class="co" cx="1202.1" cy="1683.2" r="8.7"/>
<circle class="co" cx="1083.3" cy="1662.4" r="8.7"/>
<circle class="co" cx="1089.6" cy="1655.9" r="8.7"/>
<circle class="co" cx="1144.9" cy="1668.1" r="8.7"/>
<circle class="co" cx="1160.0" cy="1663.8" r="8.7"/>
<circle class="co" cx="1175.4" cy="1656.1" r="8.7"/>
<circle class="co" cx="1189.5" cy="1663.0" r="8.7"/>
<circle class="co" cx="1118.1" cy="1699.1" r="8.7"/>
<circle class="co" cx="1131.7" cy="1676.2" r="8.7"/>
<circle class="co" cx="1146.2" cy="1674.8" r="8.7"/>
<circle class="co" cx="1164.3" cy="1684.1" r="8.7"/>
<circle class="co" cx="1162.1" cy="1692.1" r="8.7"/>
<circle class="co" cx="1182.7" cy="1693.0" r="8.7"/>
<circle class="co" cx="1201.2" cy="1668.0" r="8.7"/>
<circle class="co" cx="1206.7" cy="1691.5" r="8.7"/>
<circle class="co" cx="1222.6" cy="1666.5" r="8.7"/>
<circle class="co" cx="1239.0" cy="1684.5" r="8.7"/>
<circle class="co" cx="1223.3" cy="1688.9" r="8.7"/>
<circle class="co" cx="1234.3" cy="1700.9" r="8.7"/>
<circle class="co" cx="1228.4" cy="1701.2" r="8.7"/>
<circle class="co" cx="1217.1" cy="1684.6" r="8.7"/>
<circle class="co" cx="1071.4" cy="1713.5" r="8.7"/>
<circle class="co" cx="1073.9" cy="1718.3" r="8.7"/>
<circle class="co" cx="1071.1" cy="1709.8" r="8.7"/>
<circle class="co" cx="1091.7" cy="1711.3" r="8.7"/>
<circle class="co" cx="1127.2" cy="1708.0" r="8.7"/>
<circle class="co" cx="1142.3" cy="1702.7" r="8.7"/>
<circle class="co" cx="1165.4" cy="1710.2" r="8.7"/>
<circle class="co" cx="1177.4" cy="1707.3" r="8.7"/>
<circle class="co" cx="1179.9" cy="1691.8" r="8.7"/>
<circle class="co" cx="1105.4" cy="1702.5" r="8.7"/>
<circle class="co" cx="1135.4" cy="1696.0" r="8.7"/>
<circle class="co" cx="1120.9" cy="1682.7" r="8.7"/>
<circle class="co" cx="1105.2" cy="1675.3" r="8.7"/>
<circle class="co" cx="1093.1" cy="1672.1" r="8.7"/>
<circle class="co" cx="1117.2" cy="1672.3" r="8.7"/>
<circle class="co" cx="1197.0" cy="1678.4" r="8.7"/>
<circle class="co" cx="1077.2" cy="1701.3" r="8.7"/>
<circle class="co" cx="1071.0" cy="1713.8" r="8.7"/>
<circle class="co" cx="1072.8" cy="1716.5" r="8.7"/>
<circle class="co" cx="1076.1" cy="1719.4" r="8.7"/>
<circle class="co" cx="1069.0" cy="1719.2" r="8.7"/>
<circle class="co" cx="1085.7" cy="1711.5" r="8.7"/>
<circle class="co" cx="1080.4" cy="1711.4" r="8.7"/>
<circle class="co" cx="1076.2" cy="1711.1" r="8.7"/>
<circle class="co" cx="1083.8" cy="1705.2" r="8.7"/>
<circle class="co" cx="1076.9" cy="1702.0" r="8.7"/>
<circle class="co" cx="1084.1" cy="1707.6" r="8.7"/>
<circle class="co" cx="1084.2" cy="1705.5" r="8.7"/>
<circle class="cg" cx="1135.5" cy="1410.7" r="8.7"/>
<circle class="cg" cx="1168.7" cy="1426.1" r="8.7"/>
<circle class="cg" cx="1150.6" cy="1438.6" r="8.7"/>
<circle class="cg" cx="1161.9" cy="1466.0" r="8.7"/>
<circle class="cg" cx="1345.9" cy="1454.8" r="8.7"/>
<circle class="cg" cx="1132.1" cy="1492.0" r="8.7"/>
<circle class="cg" cx="1275.2" cy="1505.9" r="8.7"/>
<circle class="cg" cx="1275.2" cy="1505.9" r="8.7"/>
<circle class="cg" cx="1275.6" cy="1515.5" r="8.7"/>
<circle class="cg" cx="1346.5" cy="1507.8" r="8.7"/>
<circle class="cg" cx="1361.7" cy="1521.7" r="8.7"/>
<circle class="cg" cx="1361.7" cy="1521.7" r="8.7"/>
<circle class="cg" cx="1370.0" cy="1526.1" r="8.7"/>
<circle class="cg" cx="1203.3" cy="1509.7" r="8.7"/>
<circle class="cg" cx="1174.4" cy="1521.3" r="8.7"/>
<circle class="cg" cx="1205.3" cy="1527.1" r="8.7"/>
<circle class="cg" cx="1132.1" cy="1532.5" r="8.7"/>
<circle class="cg" cx="1135.9" cy="1536.7" r="8.7"/>
<circle class="cg" cx="1346.5" cy="1529.9" r="8.7"/>
<circle class="cg" cx="1346.5" cy="1529.9" r="8.7"/>
<circle class="cg" cx="1257.3" cy="1540.5" r="8.7"/>
<circle class="cg" cx="1203.3" cy="1542.5" r="8.7"/>
<circle class="cg" cx="1208.5" cy="1553.1" r="8.7"/>
<circle class="cg" cx="1208.5" cy="1553.1" r="8.7"/>
<circle class="cg" cx="1120.5" cy="1553.6" r="8.7"/>
<circle class="cg" cx="1120.5" cy="1553.6" r="8.7"/>
<circle class="cg" cx="1275.2" cy="1544.4" r="8.7"/>
<circle class="cg" cx="1275.2" cy="1544.4" r="8.7"/>
<circle class="cg" cx="1346.5" cy="1542.5" r="8.7"/>
<circle class="cg" cx="1324.7" cy="1552.1" r="8.7"/>
<circle class="cg" cx="1330.5" cy="1556.9" r="8.7"/>
<circle class="cg" cx="1346.5" cy="1556.0" r="8.7"/>
<circle class="cg" cx="1154.2" cy="1561.3" r="8.7"/>
<circle class="cg" cx="1099.3" cy="1569.4" r="8.7"/>
<circle class="cg" cx="1115.1" cy="1581.0" r="8.7"/>
<circle class="cg" cx="1256.3" cy="1564.6" r="8.7"/>
<circle class="cg" cx="1273.6" cy="1558.8" r="8.7"/>
<circle class="cg" cx="1346.5" cy="1565.6" r="8.7"/>
<circle class="cg" cx="1324.7" cy="1575.2" r="8.7"/>
<circle class="cg" cx="1190.8" cy="1581.0" r="8.7"/>
<circle class="cg" cx="1176.4" cy="1589.7" r="8.7"/>
<circle class="cg" cx="1248.6" cy="1588.3" r="8.7"/>
<circle class="cg" cx="1220.7" cy="1590.6" r="8.7"/>
<circle class="cg" cx="1204.3" cy="1590.6" r="8.7"/>
<circle class="cg" cx="1203.3" cy="1598.3" r="8.7"/>
<circle class="cg" cx="1275.6" cy="1588.7" r="8.7"/>
<circle class="cg" cx="1275.6" cy="1588.7" r="8.7"/>
<circle class="cg" cx="1294.8" cy="1598.3" r="8.7"/>
<circle class="cg" cx="1346.5" cy="1575.2" r="8.7"/>
<circle class="cg" cx="1346.5" cy="1581.0" r="8.7"/>
<circle class="cg" cx="1346.5" cy="1581.0" r="8.7"/>
<circle class="cg" cx="1361.3" cy="1582.9" r="8.7"/>
<circle class="cg" cx="1345.9" cy="1593.5" r="8.7"/>
<circle class="cg" cx="1324.7" cy="1602.2" r="8.7"/>
<circle class="cg" cx="1174.4" cy="1600.3" r="8.7"/>
<circle class="cg" cx="1135.9" cy="1608.0" r="8.7"/>
<circle class="cg" cx="1100.7" cy="1611.8" r="8.7"/>
<circle class="cg" cx="1204.3" cy="1606.0" r="8.7"/>
<circle class="cg" cx="1207.2" cy="1613.7" r="8.7"/>
<circle class="cg" cx="1203.3" cy="1619.5" r="8.7"/>
<circle class="cg" cx="1203.3" cy="1619.5" r="8.7"/>
<circle class="cg" cx="1263.1" cy="1615.7" r="8.7"/>
<circle class="cg" cx="1274.6" cy="1613.7" r="8.7"/>
<circle class="cg" cx="1274.6" cy="1613.7" r="8.7"/>
<circle class="cg" cx="1293.9" cy="1613.7" r="8.7"/>
<circle class="cg" cx="1314.1" cy="1617.6" r="8.7"/>
<circle class="cg" cx="1367.1" cy="1609.9" r="8.7"/>
<circle class="cg" cx="1346.5" cy="1606.0" r="8.7"/>
<circle class="cg" cx="1346.5" cy="1606.0" r="8.7"/>
<circle class="cg" cx="1346.5" cy="1623.4" r="8.7"/>
<circle class="cg" cx="1346.5" cy="1623.4" r="8.7"/>
<circle class="cg" cx="1346.5" cy="1631.1" r="8.7"/>
<circle class="cg" cx="1123.4" cy="1626.3" r="8.7"/>
<circle class="cg" cx="1178.3" cy="1619.5" r="8.7"/>
<circle class="cg" cx="1178.3" cy="1619.5" r="8.7"/>
<circle class="cg" cx="1157.1" cy="1617.6" r="8.7"/>
<circle class="cg" cx="1324.7" cy="1631.1" r="8.7"/>
<circle class="cg" cx="1149.4" cy="1634.0" r="8.7"/>
<circle class="cg" cx="1149.4" cy="1634.0" r="8.7"/>
<circle class="cg" cx="1170.6" cy="1639.8" r="8.7"/>
<circle class="cg" cx="1170.6" cy="1639.8" r="8.7"/>
<circle class="cg" cx="1181.2" cy="1633.0" r="8.7"/>
<circle class="cg" cx="1091.6" cy="1636.9" r="8.7"/>
<circle class="cg" cx="1207.2" cy="1629.2" r="8.7"/>
<circle class="cg" cx="1207.2" cy="1642.6" r="8.7"/>
<circle class="cg" cx="1207.2" cy="1642.6" r="8.7"/>
<circle class="cg" cx="1205.3" cy="1648.4" r="8.7"/>
<circle class="cg" cx="1205.3" cy="1648.4" r="8.7"/>
<circle class="cg" cx="1220.7" cy="1634.9" r="8.7"/>
<circle class="cg" cx="1233.2" cy="1642.6" r="8.7"/>
<circle class="cg" cx="1233.2" cy="1642.6" r="8.7"/>
<circle class="cg" cx="1274.6" cy="1627.2" r="8.7"/>
<circle class="cg" cx="1276.5" cy="1638.8" r="8.7"/>
<circle class="cg" cx="1274.6" cy="1650.3" r="8.7"/>
<circle class="cg" cx="1274.6" cy="1650.3" r="8.7"/>
<circle class="cg" cx="1278.5" cy="1654.2" r="8.7"/>
<circle class="cg" cx="1346.5" cy="1642.6" r="8.7"/>
<circle class="cg" cx="1346.5" cy="1642.6" r="8.7"/>
<circle class="cg" cx="1355.5" cy="1634.9" r="8.7"/>
<circle class="cg" cx="1351.7" cy="1663.8" r="8.7"/>
<circle class="cg" cx="1332.4" cy="1663.8" r="8.7"/>
<circle class="cg" cx="1295.8" cy="1654.2" r="8.7"/>
<circle class="cg" cx="1291.9" cy="1660.0" r="8.7"/>
<circle class="cg" cx="1239.9" cy="1658.1" r="8.7"/>
<circle class="cg" cx="1239.9" cy="1658.1" r="8.7"/>
<circle class="cg" cx="1274.6" cy="1667.7" r="8.7"/>
<circle class="cg" cx="1274.6" cy="1658.1" r="8.7"/>
<circle class="cg" cx="1274.6" cy="1658.1" r="8.7"/>
<circle class="cg" cx="1274.6" cy="1681.2" r="8.7"/>
<circle class="cg" cx="1345.9" cy="1673.5" r="8.7"/>
<circle class="cg" cx="1330.5" cy="1692.7" r="8.7"/>
<circle class="cg" cx="1265.0" cy="1698.5" r="8.7"/>
<circle class="cg" cx="1275.6" cy="1706.2" r="8.7"/>
<circle class="cg" cx="1162.7" cy="1226.7" r="8.7"/>
<circle class="cg" cx="1414.9" cy="1487.4" r="8.7"/>
<circle class="cg" cx="1414.9" cy="1495.9" r="8.7"/>
<circle class="cg" cx="1415.6" cy="1510.6" r="8.7"/>
<circle class="cg" cx="1426.6" cy="1518.0" r="8.7"/>
<circle class="cg" cx="1627.2" cy="1495.2" r="8.7"/>
<circle class="cg" cx="1689.0" cy="1489.3" r="8.7"/>
<circle class="cg" cx="1491.6" cy="1516.0" r="8.7"/>
<circle class="cg" cx="1485.5" cy="1545.0" r="8.7"/>
<circle class="cg" cx="1470.8" cy="1557.2" r="8.7"/>
<circle class="cg" cx="1486.7" cy="1563.4" r="8.7"/>
<circle class="cg" cx="1486.7" cy="1574.4" r="8.7"/>
<circle class="cg" cx="1486.7" cy="1597.7" r="8.7"/>
<circle class="cg" cx="1439.6" cy="1581.0" r="8.7"/>
<circle class="cg" cx="1400.9" cy="1592.8" r="8.7"/>
<circle class="cg" cx="1387.4" cy="1585.4" r="8.7"/>
<circle class="cg" cx="1415.6" cy="1575.6" r="8.7"/>
<circle class="cg" cx="1415.6" cy="1553.6" r="8.7"/>
<circle class="cg" cx="1416.8" cy="1551.1" r="8.7"/>
<circle class="cg" cx="1417.6" cy="1556.0" r="8.7"/>
<circle class="cg" cx="1417.6" cy="1556.0" r="8.7"/>
<circle class="cg" cx="1388.6" cy="1563.4" r="8.7"/>
<circle class="cg" cx="1472.0" cy="1633.2" r="8.7"/>
<circle class="cg" cx="1485.5" cy="1629.6" r="8.7"/>
<circle class="cg" cx="1472.0" cy="1660.2" r="8.7"/>
<circle class="cg" cx="1093.0" cy="1647.6" r="8.7"/>
<circle class="cg" cx="1111.4" cy="1656.2" r="8.7"/>
<circle class="cg" cx="1077.1" cy="1666.0" r="8.7"/>
<circle class="cg" cx="1077.1" cy="1666.0" r="8.7"/>
<circle class="cg" cx="1105.3" cy="1668.5" r="8.7"/>
<circle class="cg" cx="1123.7" cy="1673.4" r="8.7"/>
<circle class="cg" cx="1135.9" cy="1668.5" r="8.7"/>
<circle class="cg" cx="1166.6" cy="1658.7" r="8.7"/>
<circle class="cg" cx="1166.6" cy="1658.7" r="8.7"/>
<circle class="cg" cx="1177.6" cy="1666.0" r="8.7"/>
<circle class="cg" cx="1205.8" cy="1643.9" r="8.7"/>
<circle class="cg" cx="1205.8" cy="1643.9" r="8.7"/>
<circle class="cg" cx="1205.8" cy="1651.3" r="8.7"/>
<circle class="cg" cx="1205.8" cy="1651.3" r="8.7"/>
<circle class="cg" cx="1207.0" cy="1668.5" r="8.7"/>
<circle class="cg" cx="1207.0" cy="1668.5" r="8.7"/>
<circle class="cg" cx="1207.0" cy="1673.4" r="8.7"/>
<circle class="cg" cx="1207.0" cy="1673.4" r="8.7"/>
<circle class="cg" cx="1242.6" cy="1658.7" r="8.7"/>
<circle class="cg" cx="1242.6" cy="1658.7" r="8.7"/>
<circle class="cg" cx="1203.3" cy="1710.1" r="8.7"/>
<circle class="cg" cx="1175.1" cy="1711.5" r="8.7"/>
<circle class="cg" cx="1161.7" cy="1686.8" r="8.7"/>
<circle class="cg" cx="1161.7" cy="1686.8" r="8.7"/>
<circle class="cg" cx="1205.8" cy="1696.7" r="8.7"/>
<circle class="cg" cx="1205.8" cy="1696.7" r="8.7"/>
<circle class="cg" cx="1095.5" cy="1668.5" r="8.7"/>
<circle class="cg" cx="1085.6" cy="1683.2" r="8.7"/>
<circle class="cg" cx="1104.0" cy="1683.2" r="8.7"/>
<circle class="cg" cx="1118.7" cy="1678.3" r="8.7"/>
<circle class="cg" cx="1145.7" cy="1668.5" r="8.7"/>
<circle class="cg" cx="1184.9" cy="1670.9" r="8.7"/>
<circle class="cg" cx="1219.3" cy="1658.7" r="8.7"/>
<circle class="cg" cx="1225.4" cy="1663.6" r="8.7"/>
<circle class="cg" cx="1231.5" cy="1668.5" r="8.7"/>
<circle class="cg" cx="1133.5" cy="1711.5" r="8.7"/>
<circle class="cg" cx="1112.6" cy="1711.5" r="8.7"/>
<circle class="cg" cx="1070.9" cy="1675.8" r="8.7"/>
<circle class="cg" cx="1128.6" cy="1695.4" r="8.7"/>
<circle class="cg" cx="1171.5" cy="1690.5" r="8.7"/>
<circle class="cg" cx="1193.5" cy="1704.0" r="8.7"/>
<circle class="cg" cx="1216.8" cy="1700.3" r="8.7"/>
<circle class="cg" cx="1113.7" cy="1655.9" r="8.7"/>
<circle class="cg" cx="1085.6" cy="1659.8" r="8.7"/>
<circle class="cg" cx="1109.3" cy="1674.3" r="8.7"/>
<circle class="cg" cx="1139.1" cy="1674.4" r="8.7"/>
<circle class="cg" cx="1171.5" cy="1664.0" r="8.7"/>
<circle class="cg" cx="1179.7" cy="1664.3" r="8.7"/>
<circle class="cg" cx="1179.5" cy="1659.8" r="8.7"/>
<circle class="cg" cx="1214.3" cy="1649.5" r="8.7"/>
<circle class="cg" cx="1209.8" cy="1652.5" r="8.7"/>
<circle class="cg" cx="1211.6" cy="1645.2" r="8.7"/>
<circle class="cg" cx="1208.8" cy="1668.2" r="8.7"/>
<circle class="cg" cx="1210.4" cy="1673.3" r="8.7"/>
<circle class="cg" cx="1214.2" cy="1669.8" r="8.7"/>
<circle class="cg" cx="1239.2" cy="1661.3" r="8.7"/>
<circle class="cg" cx="1236.9" cy="1664.6" r="8.7"/>
<circle class="cg" cx="1202.3" cy="1711.5" r="8.7"/>
<circle class="cg" cx="1206.2" cy="1705.7" r="8.7"/>
<circle class="cg" cx="1180.4" cy="1711.5" r="8.7"/>
<circle class="cg" cx="1163.1" cy="1684.1" r="8.7"/>
<circle class="cg" cx="1161.6" cy="1691.8" r="8.7"/>
<circle class="cg" cx="1089.8" cy="1667.7" r="8.7"/>
<circle class="cg" cx="1080.7" cy="1681.9" r="8.7"/>
<circle class="cg" cx="1085.5" cy="1680.5" r="8.7"/>
<circle class="cg" cx="1111.4" cy="1671.4" r="8.7"/>
<circle class="cg" cx="1149.3" cy="1669.5" r="8.7"/>
<circle class="cg" cx="1150.7" cy="1661.4" r="8.7"/>
<circle class="cg" cx="1184.2" cy="1663.9" r="8.7"/>
<circle class="cg" cx="1213.1" cy="1652.0" r="8.7"/>
<circle class="cg" cx="1218.4" cy="1660.6" r="8.7"/>
<circle class="cg" cx="1230.7" cy="1670.3" r="8.7"/>
<circle class="cg" cx="1220.2" cy="1663.2" r="8.7"/>
<circle class="cg" cx="1223.1" cy="1668.1" r="8.7"/>
<circle class="cg" cx="1129.6" cy="1711.5" r="8.7"/>
<circle class="cg" cx="1133.8" cy="1711.5" r="8.7"/>
<circle class="cg" cx="1117.6" cy="1711.5" r="8.7"/>
<circle class="cg" cx="1078.4" cy="1679.1" r="8.7"/>
<circle class="cg" cx="1070.1" cy="1677.7" r="8.7"/>
<circle class="cg" cx="1129.7" cy="1701.0" r="8.7"/>
<circle class="cg" cx="1196.1" cy="1699.7" r="8.7"/>
<circle class="cg" cx="1220.6" cy="1696.1" r="8.7"/>
<circle class="cg" cx="1085.3" cy="1717.1" r="8.7"/>
<circle class="cg" cx="1072.9" cy="1720.0" r="8.7"/>
<circle class="cg" cx="1084.6" cy="1709.3" r="8.7"/>
<circle class="cg" cx="1076.7" cy="1708.5" r="8.7"/>
<circle class="cg" cx="1070.1" cy="1716.9" r="8.7"/>
<circle class="cg" cx="1070.9" cy="1715.1" r="8.7"/>
<circle class="cg" cx="1206.2" cy="1674.2" r="8.7"/>
<circle class="cg" cx="1207.1" cy="1694.2" r="8.7"/>
<circle class="cg" cx="1206.8" cy="1692.2" r="8.7"/>
<circle class="cg" cx="1203.2" cy="1646.6" r="8.7"/>
<circle class="cg" cx="1207.8" cy="1664.9" r="8.7"/>
<circle class="cg" cx="1207.6" cy="1611.3" r="8.7"/>
<circle class="cg" cx="1205.4" cy="1624.7" r="8.7"/>
<circle class="cg" cx="1276.1" cy="1651.0" r="8.7"/>
<circle class="cg" cx="1273.5" cy="1609.9" r="8.7"/>
<circle class="cg" cx="1274.8" cy="1690.4" r="8.7"/>
<circle class="cg" cx="1277.2" cy="1603.4" r="8.7"/>
<circle class="cg" cx="1277.4" cy="1601.0" r="8.7"/>
<circle class="cg" cx="1276.5" cy="1599.6" r="8.7"/>
<circle class="cg" cx="1273.4" cy="1685.2" r="8.7"/>
<circle class="cg" cx="1274.4" cy="1609.8" r="8.7"/>
<circle class="cg" cx="1348.7" cy="1665.3" r="8.7"/>
<circle class="cg" cx="1345.2" cy="1675.6" r="8.7"/>
<circle class="cg" cx="1346.5" cy="1643.0" r="8.7"/>
<circle class="cg" cx="1344.8" cy="1673.2" r="8.7"/>
<circle class="cg" cx="1347.3" cy="1676.2" r="8.7"/>
<circle class="cg" cx="1348.3" cy="1599.4" r="8.7"/>
<circle class="cg" cx="1345.6" cy="1584.1" r="8.7"/>
<circle class="cg" cx="1344.5" cy="1572.5" r="8.7"/>
<circle class="cg" cx="1345.3" cy="1634.4" r="8.7"/>
<circle class="cg" cx="1343.8" cy="1643.0" r="8.7"/>
<line class="dl" x1="1065.00" y1="1721.00" x2="1393.11" y2="1195.60"/>
<line class="dl" x1="1065.00" y1="1721.00" x2="1557.17" y2="1195.60"/>
<line class="dl" x1="1065.00" y1="1721.00" x2="1711.85" y2="1375.74"/>
<line class="dl" x1="1065.00" y1="1721.00" x2="1711.85" y2="1548.37"/>
<line class="ax" x1="1065.00" y1="1003.00" x2="1065.00" y2="1151.90"/>
<line class="ax" x1="1065.00" y1="1194.60" x2="1065.00" y2="1721.00"/>
<line class="ax" x1="1040.00" y1="1004.00" x2="1713.20" y2="1004.00"/>
<line class="ax" x1="1712.20" y1="1004.00" x2="1712.20" y2="1721.00"/>
<line class="ax" x1="1064.00" y1="1721.00" x2="1713.20" y2="1721.00"/>
<line class="ax" x1="1040.00" y1="1150.90" x2="1066.00" y2="1150.90"/>
<line class="ax" x1="1052.40" y1="1134.57" x2="1066.00" y2="1134.57"/>
<line class="ax" x1="1052.40" y1="1118.23" x2="1066.00" y2="1118.23"/>
<line class="ax" x1="1040.00" y1="1101.90" x2="1066.00" y2="1101.90"/>
<line class="ax" x1="1052.40" y1="1085.57" x2="1066.00" y2="1085.57"/>
<line class="ax" x1="1052.40" y1="1069.23" x2="1066.00" y2="1069.23"/>
<line class="ax" x1="1040.00" y1="1052.90" x2="1066.00" y2="1052.90"/>
<line class="ax" x1="1052.40" y1="1036.57" x2="1066.00" y2="1036.57"/>
<line class="ax" x1="1052.40" y1="1020.23" x2="1066.00" y2="1020.23"/>
<text class="t" x="1030.80" y="1162.30" font-size="36.2" text-anchor="end">0</text>
<text class="t" x="1030.80" y="1113.30" font-size="36.2" text-anchor="end">3000</text>
<text class="t" x="1030.80" y="1064.30" font-size="36.2" text-anchor="end">6000</text>
<text class="t" x="1030.80" y="1015.30" font-size="36.2" text-anchor="end">9000</text>
<line class="ax" x1="1040.00" y1="1721.00" x2="1066.00" y2="1721.00"/>
<text class="t" x="1033.50" y="1732.40" font-size="36.8" text-anchor="end">0</text>
<line class="ax" x1="1052.40" y1="1683.47" x2="1066.00" y2="1683.47"/>
<line class="ax" x1="1040.00" y1="1645.94" x2="1066.00" y2="1645.94"/>
<text class="t" x="1033.50" y="1657.34" font-size="36.8" text-anchor="end">100</text>
<line class="ax" x1="1052.40" y1="1608.41" x2="1066.00" y2="1608.41"/>
<line class="ax" x1="1040.00" y1="1570.89" x2="1066.00" y2="1570.89"/>
<text class="t" x="1033.50" y="1582.29" font-size="36.8" text-anchor="end">200</text>
<line class="ax" x1="1052.40" y1="1533.36" x2="1066.00" y2="1533.36"/>
<line class="ax" x1="1040.00" y1="1495.83" x2="1066.00" y2="1495.83"/>
<text class="t" x="1033.50" y="1507.23" font-size="36.8" text-anchor="end">300</text>
<line class="ax" x1="1052.40" y1="1458.30" x2="1066.00" y2="1458.30"/>
<line class="ax" x1="1040.00" y1="1420.77" x2="1066.00" y2="1420.77"/>
<text class="t" x="1033.50" y="1432.17" font-size="36.8" text-anchor="end">400</text>
<line class="ax" x1="1052.40" y1="1383.24" x2="1066.00" y2="1383.24"/>
<line class="ax" x1="1040.00" y1="1345.71" x2="1066.00" y2="1345.71"/>
<text class="t" x="1033.50" y="1357.11" font-size="36.8" text-anchor="end">500</text>
<line class="ax" x1="1052.40" y1="1308.19" x2="1066.00" y2="1308.19"/>
<line class="ax" x1="1040.00" y1="1270.66" x2="1066.00" y2="1270.66"/>
<text class="t" x="1033.50" y="1282.06" font-size="36.8" text-anchor="end">600</text>
<line class="ax" x1="1052.40" y1="1233.13" x2="1066.00" y2="1233.13"/>
<line class="ax" x1="1040.00" y1="1195.60" x2="1066.00" y2="1195.60"/>
<text class="t" x="1033.50" y="1207.00" font-size="36.8" text-anchor="end">700</text>
<line class="ax" x1="1065.00" y1="1720.00" x2="1065.00" y2="1746.00"/>
<line class="ax" x1="1135.31" y1="1720.00" x2="1135.31" y2="1733.60"/>
<line class="ax" x1="1205.62" y1="1720.00" x2="1205.62" y2="1746.00"/>
<line class="ax" x1="1275.93" y1="1720.00" x2="1275.93" y2="1733.60"/>
<line class="ax" x1="1346.24" y1="1720.00" x2="1346.24" y2="1746.00"/>
<line class="ax" x1="1416.55" y1="1720.00" x2="1416.55" y2="1733.60"/>
<line class="ax" x1="1486.86" y1="1720.00" x2="1486.86" y2="1746.00"/>
<line class="ax" x1="1557.17" y1="1720.00" x2="1557.17" y2="1733.60"/>
<line class="ax" x1="1627.48" y1="1720.00" x2="1627.48" y2="1746.00"/>
<line class="ax" x1="1697.79" y1="1720.00" x2="1697.79" y2="1733.60"/>
<text class="t" x="1065.00" y="1777.00" font-size="36.8" text-anchor="middle">0</text>
<text class="t" x="1205.62" y="1777.00" font-size="36.8" text-anchor="middle">100</text>
<text class="t" x="1346.24" y="1777.00" font-size="36.8" text-anchor="middle">200</text>
<text class="t" x="1486.86" y="1777.00" font-size="36.8" text-anchor="middle">300</text>
<text class="t" x="1627.48" y="1777.00" font-size="36.8" text-anchor="middle">400</text>
<text class="t" x="1389.60" y="1834.50" font-size="36.8" text-anchor="middle"><tspan font-size="36.8" dy="0.00">installed capacity (MW</tspan><tspan font-size="29.8" dy="10.49">i</tspan><tspan font-size="36.8" dy="-10.49">)</tspan></text>
<text class="t" x="0" y="0" transform="translate(912.50,1082.00) rotate(-90)" font-size="36.8" text-anchor="middle"><tspan font-size="36.8" dy="0.00">MW</tspan><tspan font-size="29.8" dy="10.49">i</tspan></text>
<text class="t" x="0" y="0" transform="translate(950.90,1458.40) rotate(-90)" font-size="36.8" text-anchor="middle"><tspan font-size="36.8" dy="0.00">area (km</tspan><tspan font-size="29.8" dy="-13.73">2</tspan><tspan font-size="36.8" dy="13.73">)</tspan></text>
<text class="lab" x="885.00" y="1010.80" font-size="38" text-anchor="start">D)</text>
<text class="k" x="1697.50" y="1042.50" font-size="36.8" text-anchor="end" fill="#000"><tspan font-size="36.8" dy="0.00">1</tspan><tspan font-size="29.8" dy="-13.73">st</tspan><tspan font-size="36.8" dy="13.73">&#160;year&#160;&#8805;&#160;2010</tspan></text>
<text class="k" x="1697.50" y="1083.50" font-size="36.8" text-anchor="end" fill="#ff5a0a"><tspan font-size="36.8" dy="0.00">1</tspan><tspan font-size="29.8" dy="-13.73">st</tspan><tspan font-size="36.8" dy="13.73">&#160;year&#160;&lt;&#160;2010</tspan></text>
<text class="t" transform="translate(1327.00,1393.70) rotate(-58.02)" x="0" y="0" font-size="36.8" text-anchor="start"><tspan font-size="36.8" dy="0.00">3.0 MW</tspan><tspan font-size="29.8" dy="10.49">i</tspan><tspan font-size="36.8" dy="-10.49">&#160;km</tspan><tspan font-size="29.8" dy="-13.73">-2</tspan></text>
<text class="t" transform="translate(1410.50,1413.60) rotate(-46.87)" x="0" y="0" font-size="36.8" text-anchor="start"><tspan font-size="36.8" dy="0.00">2.0 MW</tspan><tspan font-size="29.8" dy="10.49">i</tspan><tspan font-size="36.8" dy="-10.49">&#160;km</tspan><tspan font-size="29.8" dy="-13.73">-2</tspan></text>
<text class="t" transform="translate(1507.40,1534.90) rotate(-28.09)" x="0" y="0" font-size="36.8" text-anchor="start"><tspan font-size="36.8" dy="0.00">1.0 MW</tspan><tspan font-size="29.8" dy="10.49">i</tspan><tspan font-size="36.8" dy="-10.49">&#160;km</tspan><tspan font-size="29.8" dy="-13.73">-2</tspan></text>
<text class="t" transform="translate(1492.00,1649.60) rotate(-14.94)" x="0" y="0" font-size="36.8" text-anchor="start"><tspan font-size="36.8" dy="0.00">0.5 MW</tspan><tspan font-size="29.8" dy="10.49">i</tspan><tspan font-size="36.8" dy="-10.49">&#160;km</tspan><tspan font-size="29.8" dy="-13.73">-2</tspan></text>
</svg>
</body>
</html>
